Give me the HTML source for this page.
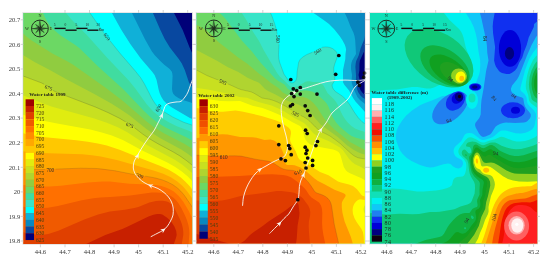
<!DOCTYPE html><html><head><meta charset="utf-8"><style>html,body{margin:0;padding:0;background:#fff;width:550px;height:267px;overflow:hidden}svg{display:block;filter:blur(0.45px)}</style></head><body><svg width="550" height="267" viewBox="0 0 550 267"><clipPath id="c1"><rect x="23.3" y="13.0" width="168.8" height="231.1"/></clipPath><g clip-path="url(#c1)"><rect x="22.3" y="12.0" width="171.0" height="233.5" fill="#000078"/>
<path fill="#0848a0" d="M22.3 12l151.2 0l9.3 18.3l6.8 17.2l3.7 8.1l0 189.9l-171 0l0-233.5Z"/>
<path fill="#0888c0" d="M22.3 12l130.2 0l7.9 18l4.3 9l5.2 8.5l8.9 11.5l3 4.5l3 6.5l4.2 12.5l1.8 3.1l2.5 2.5l0 157.4l-171 0l0-233.5Z"/>
<path fill="#10b0d8" d="M22.3 12l109.2 0l13.6 27.5l6.8 12l2.9 3.7l5.5 5.8l4 3.8l5.4 4.2l2 2.5l.6 2l.3 2.5l-.6 13l.5 3l.9 2l1.9 2l3.5 2.2l4 1.7l8 2.5l2.5 1.6l0 141.5l-171 0l0-233.5Z"/>
<path fill="#00ffff" d="M22.3 12l89.1 0l9.7 17.5l9.2 14.5l10.5 14.4l11.2 13.1l2.6 3.5l2 5l2 9.5l1.2 4l1.6 3.5l2.2 3.5l3.2 3.3l4.3 3.2l18.8 11l3.4 1.4l0 126.1l-171 0l0-233.5Z"/>
<path fill="#38e4c8" d="M22.3 12l67 0l14.4 20.5l6.1 8l10.4 13l14.7 17l5.6 7l4 6.5l7.7 15l2.5 4l2.8 3.5l2.7 2.5l3.3 2.5l9.2 5.5l11.1 5.3l9.5 3.2l0 120l-171 0l0-233.5Z"/>
<path fill="#40dca0" d="M22.3 12l43 0l5.7 7l16.3 16.4l20.1 22.6l21.4 22.6l6.5 7.9l11.6 16l6.4 7.1l6.7 5.4l8.8 5.3l8 3.9l12 4.6l4.5 2.1l0 112.6l-171 0l0-233.5Z"/>
<path fill="#6cd864" d="M22.3 12l20.3 0l2.4 5.5l2.4 4.5l2.8 4l3.2 3.5l7.3 6l14.6 9.5l4 3.1l18.3 17.9l26.2 23.8l19.7 20.7l6.8 6.5l7 5.4l7.5 4.6l7.5 3.8l14 6.4l7 3.9l0 104.4l-171 0l0-233.5Z"/>
<path fill="#90cc40" d="M22.3 32l0-.4l1 1.9l2.4 2.5l6 4.5l20.7 13l13.9 7.2l6.5 3.8l33.5 23.7l17 13l22.7 19.8l8.3 6.4l10 6.1l20 10.2l9 5.8l0 96l-171 0l0-213.5Z"/>
<path fill="#b0d430" d="M22.3 55l0-.4l12.2 7.4l15.3 8l17 9.5l27.5 14.4l17 9.7l9.5 5.9l8.5 5.8l16.5 13.2l7 5l8 4.9l20.5 11.1l6 3.9l6 4.5l0 87.6l-171 0l0-190.5Z"/>
<path fill="#c8e020" d="M22.3 76l0-.3l18.5 6.9l3.7 1.9l4.8 4l5.7 3l40.3 15.5l12.5 5.5l11.5 5.7l11 6.3l12.5 9.6l7.9 5.4l7.1 4.2l15.5 8.3l7 4.2l6.5 4.6l6.5 5.3l0 79.4l-171 0l0-169.5Z"/>
<path fill="#e0ec10" d="M22.3 95.5l0-.5l21.5 8.8l7.5 2.8l43 12l12.5 4.2l11 4.4l9.5 5l13.3 8.8l7.4 4.5l26.8 14.3l7.5 5l7.5 6.1l3.5 3.2l0 71.4l-171 0l0-150Z"/>
<path fill="#ffff00" d="M22.3 114.5l13 3.9l9.5 2.5l11 2.3l34.5 6.4l11.5 2.8l10 3.1l11 4.6l21 11.2l23.5 11.1l7.5 4.3l7 4.8l6 5.1l5.5 5.6l0 63.3l-171 0l0-131Z"/>
<path fill="#ffc800" d="M22.3 133l10.5 2.3l10 1.6l33.5 3.4l11.5 1.4l10 1.8l9 2.1l13.5 4.3l20.9 8.6l18.6 7.2l8.5 3.9l7.5 4.3l5 3.7l4.4 3.9l4.1 4.3l4 5l0 54.7l-171 0l0-112.5Z"/>
<path fill="#ffa800" d="M22.3 151.5l0-.3l8.5 1.3l9.5 .6l42 1.2l9.5 .9l9 1.2l17 3.8l36.5 10.5l9 3.1l7.5 3.5l6.5 4.2l5.5 4.7l4.5 5.2l6 8.4l0 45.7l-171 0l0-94Z"/>
<path fill="#ff8c00" d="M71.8 168.5l12.5-.3l10.5 .2l8.5 .7l12 1.7l20.5 4.1l14 2l7 1.4l9 2.9l7.5 3.9l5 3.7l4.5 4.6l4 5.3l6.5 9.9l0 36.9l-171 0l0-76.6l7.5 .5l12 .1l30-1Z"/>
<path fill="#ff7000" d="M102.7 181.5l7.1-.1l19.5 2.4l20 .7l7 .6l5 1l4.5 1.4l4 1.7l4 2.4l5 4.4l4.5 5.7l5.5 9.3l3.9 8.5l.6 1.8l0 24.2l-171 0l0-60.6l15 1.5l12.5 .1l11-.8l27-3.1l14.9-1.1Z"/>
<path fill="#f05a00" d="M151.7 192.5l4.6-.1l4 .3l4 .8l3.5 1.1l3 1.5l3 2l2.5 2.4l2.3 3l3 5l3.2 6.4l2.1 5.1l1.5 5l.7 4l.3 4.5l-.9 12l-166.2 0l0-38.9l14 1.5l6 0l5.5-.4l10-1.6l24-5.8l11.5-2.1l7-.8l10-.4l20-1.6l21.4-2.9Z"/>
<path fill="#e04000" d="M155.9 201l3.4-.3l3.5 .1l3 .5l2.5 .8l3.1 1.9l3.2 4.5l5.7 11.5l1.7 4.5l.9 4l.4 3.5l0 3l-1.8 10.5l-159.2 0l0-13.3l8 1.6l7 .9l6 0l5-.7l10-3.2l26-11.3l13.8-5l11.7-3l15-1.8l9.5-1.7l4-1.1l11-4.3l6.6-1.6Z"/>
<path fill="#c82000" d="M157.2 214l2.6 0l2.5 .6l4.5 2.8l4 3.7l3.6 5.4l1.8 4.5l.5 4l-.9 3.5l-2.5 7l-90.3 0l22.3-10.6l17-6l5.5-2.3l20.7-10.1l4.8-1.7l3.9-.8Z"/></g>
<clipPath id="c2"><rect x="196.5" y="13.0" width="168.3" height="230.6"/></clipPath><g clip-path="url(#c2)"><rect x="195.5" y="12.0" width="170.5" height="233.0" fill="#000078"/>
<path fill="#0848a0" d="M195.5 12l170.5 0l0 36.4l-2.4 4.1l-3.7 8l-.4 3l-.1 7l-.8 4.5l.9 4.5l-.1 7.5l.3 1.5l1 2l1.8 2.3l1.8 1.7l1.7 1.1l0 149.4l-170.5 0l0-233Z"/>
<path fill="#0888c0" d="M195.5 12l170.5 0l0 20.3l-1.8 7.2l-3.5 8.5l-2 7.5l-2.5 5.5l-.5 2.5l-.3 3.5l.6 8l-.1 6.5l1.2 8l1.4 3.2l1.9 2.8l2.1 1.9l3.5 2.2l0 145.4l-170.5 0l0-233Z"/>
<path fill="#10b0d8" d="M195.5 12l148.8 0l3.1 6.5l3.1 8l2.9 6l1.1 3.5l.7 4l.8 14l-3.8 6.5l-.8 2.5l-.4 2.5l0 3.5l1 6l-.4 5.5l.3 3l2.2 6.5l3.3 7l2.6 3l6 4.9l0 140.1l-170.5 0l0-233Z"/>
<path fill="#00ffff" d="M195.5 12l116.6 0l12.9 8.9l4 3.2l5 5l5.6 6.9l2.7 4l2.4 4.5l.9 2.5l.5 2.5l-.6 4.5l-.2 5l-2.3 11l.1 12.5l1.4 2.5l4.6 5.5l4.3 8l2.1 3.1l10.5 11.5l0 131.9l-170.5 0l0-233Z"/>
<path fill="#38e4c8" d="M195.5 12l74.6 0l2 4.5l2.5 7l1.8 6.5l1.4 7l1.2 7.5l-.5 10l.3 4l.7 3.5l4.7 12.5l3.1 4l2.2 3.5l1.5 .9l1.5 0l1.5-.5l1.1-.9l1-1.5l.7-2.5l.3-5.5l1.6-10l1.8-2.9l3-2.6l3.5-2l7.5-3.2l5.5-3l4-1.3l3.5 0l3.5 .8l3 1.7l2 2l1.2 2l.3 2l-.5 2.3l-2.3 6.2l-.9 3.5l-.1 4.5l1.2 7l-.5 2l-2.4 4l.5 2.5l1.1 2l1.9 2.1l6.7 4.4l3.3 3l4 5.3l5 8.2l3.6 5l3.9 4.2l4 2.8l0 120.5l-170.5 0l0-233Z"/>
<path fill="#40dca0" d="M195.5 12l45.7 0l5.4 8.5l5.9 10.6l6.5 9.9l4.9 9.5l13.2 22.5l3.1 4l5.3 4.7l3 3.3l1.5 1.2l1.5 .6l1.5 .3l2.1-.1l4-1.5l6.4-3.8l2-.5l2 .1l3.5 .7l5 .1l3 1l2.5 2.4l4 7.5l6.2 6l2.4 3l1.8 3l2.6 6.1l2.5 4.8l2.3 3.6l2.4 3l3.7 3.5l3.6 2.4l3.7 1.6l7.3 2.4l0 112.6l-170.5 0l0-233Z"/>
<path fill="#6cd864" d="M195.5 12l22 0l2.7 1.5l2.8 2.5l3 3.5l16.2 21.5l9.3 10l9 11.5l14.6 16l3.3 2.5l6.1 3.6l3.4 4.4l3.1 1.8l4 .6l8-.9l4 .1l5 1l4.1 1.9l8.4 7.5l2.2 2.5l1.7 3l2.9 7.5l1.9 4l2.9 4.5l3.5 4l8.3 7l3.6 2.4l4.5 1.8l8 2l2 .8l0 104.5l-170.5 0l0-233Z"/>
<path fill="#90cc40" d="M195.5 25l0-.3l1 .3l3.5 1.5l6.3 4l3.7 3.2l8.4 8.3l19.8 15.5l8.8 6.1l12.4 10.4l5.6 4l6 4.9l7.4 5.1l4.3 4.5l3.8 2l3.5 1.3l3.5 .6l9.5 .6l3.5 1.1l3.5 1.9l3.4 3l3.6 4.2l6.9 10.8l2.2 3l8.3 8.5l15.6 12.4l13 7.2l3 1.1l0 94.8l-170.5 0l0-220Z"/>
<path fill="#b0d430" d="M195.5 49.5l21 11l11 6.5l10.8 5l9.2 5.8l11 4.8l1.8 1.4l4.7 4.9l3.5 2.3l7 3.4l9 5l5.5 2.2l8.3 2.7l3.7 1.9l4.5 3.2l4.5 3.9l9.5 11l17.3 12.5l9.2 8.3l6.5 4.4l4 2.3l3.6 1.5l4.9 1.2l0 90.3l-170.5 0l0-195.5Z"/>
<path fill="#c8e020" d="M195.5 70l0-.5l7.5 4.1l5 2.4l22 8.8l9 4.1l3 .9l9 2l3 1.4l8 4.8l7 1.2l4 1.1l4.5 1.8l6.5 3.2l5.5 3.2l6.5 4.7l7.5 3.6l3.5 2.1l3 2.5l5.4 5.6l2.6 2.3l4 2.6l8 4.1l6.5 4.7l4 3.1l10 9.2l3.5 2.8l4 2l6.5 1.1l1.5 .5l0 85.6l-170.5 0l0-175Z"/>
<path fill="#e0ec10" d="M195.5 88l0-.3l15 2.2l16.5 3.7l12.5 3.3l7.5 .9l11.5 4.3l13 3.4l7 2.9l6 3.2l9.5 6.2l10 5.3l2.7 2.4l5.9 7l3.9 3.1l3.5 1.8l9 3.8l11 6.2l2.8 2.6l6.2 8.8l3 3.3l3 2.1l6 2.8l5 3l0 75l-170.5 0l0-157Z"/>
<path fill="#ffff00" d="M195.5 97l18 3.1l7 .8l8.5 .4l11-.3l12.5 4.7l10 2.4l7.9 2.9l10.1 4.3l12 7l7.5 3.7l1.4 1.5l1.3 2.5l1.9 7.5l.9 2.1l2 2.7l2.5 1.9l2.5 1.1l3 .9l17.6 3.3l3.4 1.2l2 1.3l1 1.3l1 2.2l3.3 11.5l2.2 3.6l1.7 1.4l2.3 1.3l11.5 4.9l4.5 2.5l0 24l-1 .6l-.9 1.2l-.7 2.5l.6 3l2 3.4l0 29.6l-170.5 0l0-148Z"/>
<path fill="#ffcc00" d="M195.5 108l3 .3l11 2.6l6 .8l7.5 0l12.5-1.2l6.5 .9l19.5 4.5l14.7 4.6l4.8 2l7.4 5l1.8 2l.7 2l.1 2l-1 5.5l.4 2.5l1.4 3l4 7l2.3 6l1.9 2.5l12.5 7.2l7.5 4.8l8.5 3.3l9.5 6.2l3 1.1l8 1.8l4 1.7l4 3.1l4.5 5.8l1 .7l2.5 .8l1 .6l0 2.1l-1 .8l-5-.7l-2 .7l-1.9 1.5l-1.6 2l-1 2l-.6 2l-.3 2.5l.4 4l1.5 4.2l2.1 3.8l4.9 7l1.4 3l.7 4l.6 9l-168.7 0l0-137Z"/>
<path fill="#ff9800" d="M217.7 134.5l4.8-.2l5 .3l12.5 2.4l12.5 .2l4 .6l8 2.1l6-.3l3.5 .8l2 1.3l2.5 2.4l1.5 1.9l1.5 2.7l2.4 5.8l.1 5l.3 2l.7 1.6l1.2 1.4l1.3 .6l4.5-.2l2.5 .3l5.5 2l5.5 3.5l9 7.9l3.5 2.5l6 2.8l10.5 5.8l8.5 3.3l1.8 1l.8 1l-.1 1.2l-3 4.7l-.7 2.1l0 4.5l.7 5.5l2.1 8.5l6.3 15.5l2.3 8l-157.7 0l0-107.1l4-.1l11.5-2.4l6.7-.9Z"/>
<path fill="#ff6c00" d="M195.5 155l14.5 .9l24.5-.1l6.5 .3l15.5 3.3l12.5 1.9l4.5 1.9l7 4.5l2.7 1.3l2.8 .7l7.3 .8l4.7 1.6l4 3.4l6 6.4l2.5 3.2l4.5 6.9l1.8 1l5.2 1.8l3 1.4l3 2.3l1.9 2.5l.9 2l.8 3l2.7 18.5l4.7 20.5l-143.5 0l0-90Z"/>
<path fill="#f05000" d="M262.6 174.5l9.4-.3l11 .7l4 .9l4 1.5l6 4.3l7 6.2l2 2.2l3.2 5l2.3 2.5l7.6 5l1.9 3l1 3.6l.3 3.9l-.2 10l.3 5.5l.9 6l2.2 10.5l-130 0l0-68.1l14 0l30-.9l23.1-1.5Z"/>
<path fill="#e03c00" d="M276.8 191l4.7-.1l10 1.4l2.5 .5l2.5 1l4.5 2.9l2 1.7l5.2 7.1l1.4 3l.7 3.5l-.2 3.5l-1.2 6l-.2 4.5l.3 6.5l1.1 12.5l-114.6 0l0-44.6l15 .7l11.5-.7l7.5-1.3l12-3.4l26-3.2l9.3-1.5Z"/>
<path fill="#c82000" d="M296.1 203l1.4 0l1 1.5l1 8.5l-.3 3.5l-1.6 9l-.8 12.5l-1 7l-100.3 0l0-11.4l26 7.8l7.5 2l7 .8l2-.2l2.5-.8l4-2.5l5.5-5.7l3.8-3l8.2-5.5l6.5-5l16.5-10.8l4.5-3.5l6.6-4.2Z"/></g>
<clipPath id="c3"><rect x="370.0" y="13.0" width="167.3" height="230.6"/></clipPath><g clip-path="url(#c3)"><rect x="369.0" y="12.0" width="169.5" height="233.0" fill="#100010"/>
<path fill="#000080" d="M369 12l169.5 0l0 233l-169.5 0l0-233Z"/>
<path fill="#0000d8" d="M369 12l169.5 0l0 233l-169.5 0l0-233Z"/>
<path fill="#1030f0" d="M369 12l169.5 0l0 233l-169.5 0l0-233ZM512 39.9l-1 .4l-.6 .7l-.6 1.5l-.1 1.5l.2 1.5l.6 1.2l.5 .5l1 .4l1-.4l1-1l.9-2.7l-.2-1.5l-.7-1.3l-1-.7l-1-.1Z"/>
<path fill="#2080f0" d="M369 12l125.8 0l-1.7 9.5l-.4 5l.4 7l2 13.5l-1 13.5l.9 3.7l1 2.6l3 4.2l1.1 1l1.9 1l4.5 1.1l3-.2l2.5-1.1l3-2.4l2-2.5l2.3-5.4l3-5l1.6-5.5l2.8-7l2-7.5l5.1-10.5l.3-3l4.4-3.7l0 224.7l-169.5 0l0-233Z"/>
<path fill="#10c8f8" d="M369 12l110.7 0l1.8 6.8l4.8 22.2l.6 4.5l.4 7.5l1.2 7.5l-2.4 10.5l-2.4 17l-2.2 12l-.4 4.5l-.4 10l-1.4 3.5l-3.9 5l-.4 2l.7 2.5l3.3 6l2 2.4l2 1l2.5-.4l4.6-2l1.4-1.5l4-6.2l2-1.6l3-1.5l2.5-.8l3-.3l9.5 .5l8.5-.6l2-.6l1.5-.8l2.5-2.8l.7-1.8l.1-2l-.8-1.6l-3.5-4.1l-1.4-2.3l-.9-2.5l-.9-5.5l-1.3-1.1l-5.5-1.6l-3.2-1.8l-1.9-2.5l-.4-1.5l0-1.5l1.1-3l4.9-6.1l2-3.4l7.8-20l4.8-11l4.4-7.9l1-1.3l1.5-1.2l0 210.4l-169.5 0l0-233Z"/>
<path fill="#00f0f0" d="M369 12l96.3 0l5.7 9.3l2.9 6.2l1.7 5.5l1.4 6.5l1.5 12l1.6 8.5l.2 4.5l-.4 6.5l-.6 3l-4.5 12l-2.8 4.9l-2 2.2l-2 1.7l-4 1.9l-4.5 .4l-11.5-1.4l-5.5 .4l-10 4.2l-8.6 3.2l-3.9 1.8l-8 5.2l-6 5.3l-4.2 5.2l-3.7 6l-1.3 3l-1 5l.1 3l.5 3l2.5 7l1.6 3l2 2.8l4 4l5 3.3l8.5 3.9l6.5 1.9l3.5 .5l3.5-.1l10-3.1l4.5-.7l2.5 .5l3 2.8l2.5 1.3l2.5 .3l2.5-.9l1-1l.9-2l.1-1.5l-.5-2l-1-1.3l-4.5-2.2l-1.8-1.5l-1.5-3l-.1-3l.7-2l1-1.5l6-5.5l3.2-6l1-1l1.5-.7l2.5-.4l2.5 .4l1.5 .8l6.5 5l2 .8l1.5 .2l2.5-.6l6.5-2.3l2.4-1.7l4.1-3.8l2.5-1.2l4.4 0l9.6 2.7l5.5 .4l3.5-.6l3-.9l3-1.6l2-1.6l1.5-2.2l.9-2.7l1.3-7.5l-.4-3l-1.7-3l-4.6-4.4l-1.5-1.9l-.9-2.2l-.5-4l-.6-1.8l-1.5-2.2l-3.5-3l-.6-1.5l0-1.5l4.7-18l4.1-11l4.3-6.9l5-6.3l0 199.2l-169.5 0l0-233Z"/>
<path fill="#10e0b8" d="M369 12l74.1 0l6.4 7.9l9.6 9.1l1.9 2.5l1.3 2.5l1.2 3.5l2.3 10l4.3 11.5l1.3 5l.3 3.5l-.2 2.5l-.7 2.5l-1.3 2.5l-2.9 3.5l-3.1 1.7l-3.5 .7l-8.5 .4l-4.5 .8l-4.5 1.5l-8.5 3.9l-3.5 1.1l-4 0l-9-1.5l-5.5-.1l-15.5 2.4l-13 .5l-14.5 2.4l0-80.3ZM538.3 54l.2-.2l0 55l-7-5l-2-2.3l-.6-1.5l-.7-5l-2.2-6l-.3-3l.3-4l1.1-6.5l2.1-7.5l3.8-8l2.5-3.2l2.8-2.8ZM538.1 135l.4-.3l0 110.3l-169.5 0l0-54.6l3.5-.2l12.5-1.5l7.5-.2l8 .6l16.5 2.3l6.5 .2l12.7-1.1l5.8-1l4.5-1.2l3.2-1.3l1.9-1.5l.5-1l1.1-4.5l1.6-2l2.2-.9l5.5-.7l1.5-1l1-1.6l.8-2.8l.5-3.5l0-3l-.4-2l-1.8-3l-4.7-4.5l-.9-2l-.2-2l.6-2l1.2-2l5.4-7.1l2.5-2.2l2-.5l2 .4l4 1.7l4.5 2.6l2 .7l2-.2l4.5-1.6l6-1.5l5-2.3l1.5-.2l2.5 .5l9 3.5l3.5 .7l3.5 .1l5-.6l5-1.4l4.5-2.1l3.6-2.5Z"/>
<path fill="#10c878" d="M538.4 60l.1 43.8l-5-2.8l-1.2-1l-.7-1l-2.3-10l-.4-4.5l.7-7.5l1.9-6.6l3-6l2-2.6l1.9-1.8ZM472.4 141.5l3.6 .5l5 2.7l2 .5l1.5-.3l5.5-2.2l2.5-.3l2.5 .2l2.5 .8l4 2.3l5 1.8l5 1.2l4.5 .5l5-.3l6-1.3l6-1.9l5.5-2.5l0 101.8l-169.5 0l0-31.8l3.5-.2l9.5 1.2l5 .4l13-.9l12.5 .6l6.5-.2l11-2.1l6 .1l4-.3l13.1-2.3l1.9-.5l5.5-2.4l6.9-2.1l2.1-1l1.3-1l.9-1.5l2.9-7.5l.4-5l-.1-4l-.8-2.5l-3.2-5.5l-1.2-3l-.6-3l-.8-7l-.8-2.9l-1-1.4l-3.6-3.2l-.9-1.5l-.3-1.5l.3-1.5l.5-.9l1-.9l1-.3l1 .7l3 3.2l1 .2l1-.5l.6-1l.2-1.5l-.8-2.5l-1-.9l-3-.5l-.4-.6l0-1l.8-1.5l1.1-.9l2-.7l2.4-.4Z"/>
<path fill="#10b040" d="M538.2 65.5l.3-.3l0 34.3l-3-2.1l-1.7-2.4l-1.7-5.5l-.6-5.5l.5-5.5l1.3-5l2.1-4.5l2.8-3.5ZM474.2 145l1.3-.4l1.5 .2l4.5 2.9l2 .5l1.5-.4l4.5-2.6l2.5-.1l2.5 1.2l5 4.1l4 2.2l6 2.4l5 1l4 0l5-.8l15-4.8l0 94.6l-126.2 0l13.2-4.9l14-3.2l2.5-.9l2-2.3l3.4-6.2l2-3l3.9-4.5l3.7-3.5l2.8-2l2.7-1.1l2.5-.5l4.5 0l2.9-3.9l1.6-1l2.8-1l.5-.5l.3-1.5l-.5-3.5l.2-2l2.3-5l-.1-5l.4-6l-.4-1.5l-.6-1l-4.9-4.7l-2.3-3.8l-1.2-4.5l-1.4-10l.2-1.5l1.7-2l1.1-2l1.1-6l1-1.5ZM464.5 227.3l-.6 .7l.1 .6l1 .6l.8-.2l.3-.5l-.1-.7l-.5-.5l-1 0ZM471.5 215.5l-.6 .5l.1 1.6l1 1.3l1 0l.9-.9l-.3-1l-1.1-1.2l-1-.3ZM465.2 154.5l.3-.2l.9 .2l.4 1l-.3 .4l-1-.3l-.4-.6l.1-.5Z"/>
<path fill="#10a020" d="M538.2 70.5l.3-.3l0 25.2l-2-2.2l-1.3-2.7l-.9-3.5l-.2-3.5l.2-3.5l.8-3.5l1.4-3.4l1.7-2.6ZM475.9 147.5l1.1-.1l1 .4l4 3.4l1.5 .7l1.5-.2l4-2.2l1.5-.2l1 .2l1.5 1l3.5 3.3l5 3.1l7.5 3.8l5 1.4l5 .2l5.5-.9l5-1.4l9-3.4l0 88.4l-99.4 0l6.4-2.8l2.5-1.5l2.4-2.2l4.1-5l1.5-1.2l2-.3l2.5 1.3l2 .4l2-.4l1.5-.7l2.6-2.6l2.9-4.5l3-3.4l1.2-2.1l.5-3l-.8-4.5l.1-1.5l.6-1l2.9-1.5l1.1-2l.3-2l-.4-4.5l2.3-5l.2-5l1.4-7l-.2-1.5l-1-1.5l-5.7-3.8l-2.5-2.4l-1.7-2.8l-1.1-3.5l-.9-6l.1-3.5l3.6-8.9l.5-.9l.9-.7Z"/>
<path fill="#20a020" d="M538.3 76.5l.2-.4l0 14l-1.2-3.1l-.5-3.5l.3-3.5l1.2-3.5ZM475.8 150.5l1.2-.5l1.5 .7l4 4.8l1.5 1.1l1.5-.2l3-1.7l2 .2l6.2 4.1l9.3 5.5l4 2l4 1.3l4 .4l6.5-.5l8-1.1l6-1.4l0 79.8l-81.7 0l4.3-4l5.9-4.8l3.1-4.2l3.8-4l2.1-3.1l1.6-3.9l1.4-7.5l2.7-4l.9-2l.7-7l2-6l1.8-10l.1-2l-.5-2l-1.7-2l-7-4.1l-2.3-1.9l-2-3l-1.2-3.8l-.6-4.2l.2-3.5l1.9-4.7l1.8-2.8Z"/>
<path fill="#90d020" d="M476.8 152.5l1.2 .3l1.2 1.2l3.3 6.8l1.5 1.7l2 .4l5-.5l3 .6l3.9 2l8.6 5.5l4.5 2l3.5 .9l3.5 .3l17.5 .3l3-.2l0 71.2l-72.2 0l7.7-10l4.8-9l2.5-9l3.9-8l1-7l1.8-6l2.3-10.5l-.3-4l-1.5-3.1l-1.6-1.4l-4.4-2.2l-5.5-3.6l-1.5-1.6l-1.2-2.1l-1.2-4.5l0-4.5l1.5-4l.9-1.2l1.3-.8Z"/>
<path fill="#ffff00" d="M476.5 155l.6 0l.9 .5l1 1.6l1 2.9l1 5l.5 1.1l1 .3l4.5-.4l3 .8l2.8 1.7l10.2 7.7l5 2.8l5 1.6l6 .8l8.5 .3l11-.6l0 63.9l-64.1 0l3.7-6.5l1.9-5.5l2.7-6l2.3-7l3-6l.6-2.5l-.1-4.5l.5-2.4l2-8.6l3.3-8l.6-3.5l-.3-2.5l-.8-2.5l-.9-2l-.9-1.2l-2-1.2l-4.5-.8l-2-.8l-1.7-1.5l-1.8-2.4l-3-1.4l-1.5-1.7l-1.2-3.5l-.2-3.5l.9-3l1.5-1.5Z"/>
<path fill="#ffc000" d="M476.5 158.5l.5 0l.5 .5l.5 2l-.1 2l-.4 .6l-.5 .2l-1-1.2l-.3-1.6l.1-1.5l.7-1ZM484.6 168l1.9-.3l2 .9l.6 .9l.2 1l-.8 1.5l-2 .7l-1.5-.2l-1-.5l-.7-1l-.2-1l.3-1l1.2-1ZM494.1 230.5l1.9-.4l2 .2l2 .9l1.5 1.4l1.8 3.4l1.3 7l.4 1l1.1 1l-19.3 0l1.8-6.5l1.4-3.6l2-2.9l2.1-1.5ZM538.2 243l.3-.3l0 2.3l-3.2 0l2.9-2Z"/>
<path fill="#ff9000" d="M485.8 170l.5 0l-.3 .5l-.2-.5Z"/><path fill="#ffc000" d="M478.0 250.0C467.3 249.0 479.9 246.5 481.0 244.0C482.1 241.5 483.1 239.0 484.4 235.0C485.7 231.0 487.4 225.0 489.0 220.0C490.6 215.0 492.0 209.3 494.0 205.0C496.0 200.7 498.3 196.8 501.0 194.0C503.7 191.2 506.8 189.7 510.0 188.5C513.2 187.3 516.7 187.2 520.0 186.8C523.3 186.4 525.8 186.4 530.0 186.3C534.2 186.2 542.5 175.4 545.0 186.0C547.5 196.6 556.2 239.3 545.0 250.0C533.8 260.7 488.7 251.0 478.0 250.0Z"/><path fill="#ff9000" d="M483.0 250.0C473.1 249.0 484.6 246.5 485.5 244.0C486.4 241.5 487.1 239.0 488.3 235.0C489.6 231.0 491.4 225.0 493.0 220.0C494.6 215.0 496.2 208.8 498.2 205.0C500.2 201.2 502.5 199.2 505.0 197.5C507.5 195.8 510.2 195.2 513.0 194.5C515.8 193.8 516.7 193.2 522.0 193.0C527.3 192.8 541.2 183.5 545.0 193.0C548.8 202.5 555.3 240.5 545.0 250.0C534.7 259.5 492.9 251.0 483.0 250.0Z"/><path fill="#f85000" d="M490.0 250.0C481.2 249.0 491.4 246.5 492.0 244.0C492.6 241.5 492.7 239.0 493.6 235.0C494.5 231.0 496.1 224.7 497.5 220.0C498.9 215.3 500.2 210.2 502.0 207.0C503.8 203.8 505.8 202.2 508.0 201.0C510.2 199.8 512.2 199.9 515.0 199.5C517.8 199.1 520.0 198.8 525.0 198.5C530.0 198.2 541.7 189.4 545.0 198.0C548.3 206.6 554.2 241.3 545.0 250.0C535.8 258.7 498.8 251.0 490.0 250.0Z"/><path fill="#f01000" d="M496.0 250.0C488.2 249.0 497.4 246.5 498.0 244.0C498.6 241.5 498.8 239.0 499.5 235.0C500.2 231.0 500.9 224.3 502.0 220.0C503.1 215.7 504.3 211.7 506.0 209.0C507.7 206.3 509.7 205.1 512.0 204.0C514.3 202.9 517.0 202.8 520.0 202.5C523.0 202.2 525.8 202.4 530.0 202.5C534.2 202.6 542.5 195.1 545.0 203.0C547.5 210.9 553.2 242.2 545.0 250.0C536.8 257.8 503.8 251.0 496.0 250.0Z"/><path fill="#ff2020" d="M500.0 250.0C492.8 249.0 501.3 246.5 502.0 244.0C502.7 241.5 503.4 238.7 504.0 235.0C504.6 231.3 504.7 225.8 505.5 222.0C506.3 218.2 507.4 214.7 509.0 212.0C510.6 209.3 512.8 207.2 515.0 206.0C517.2 204.8 519.5 204.8 522.0 205.0C524.5 205.2 527.7 205.8 530.0 207.0C532.3 208.2 533.5 210.7 536.0 212.0C538.5 213.3 543.5 208.7 545.0 215.0C546.5 221.3 552.5 244.2 545.0 250.0C537.5 255.8 507.2 251.0 500.0 250.0Z"/><ellipse cx="439.0" cy="58.0" rx="38.5" ry="24.0" transform="rotate(35 439.0 58.0)" fill="#10c878"/><ellipse cx="445.0" cy="66.0" rx="28.0" ry="16.0" transform="rotate(35 445.0 66.0)" fill="#10b040"/><ellipse cx="448.7" cy="70.2" rx="22.0" ry="11.5" transform="rotate(35 448.7 70.2)" fill="#10a020"/><ellipse cx="454.0" cy="73.5" rx="16.0" ry="8.5" transform="rotate(35 454.0 73.5)" fill="#20a020"/><ellipse cx="459.0" cy="76.0" rx="8.0" ry="7.5" transform="rotate(20 459.0 76.0)" fill="#90d020"/><ellipse cx="460.5" cy="77.0" rx="5.0" ry="5.6" transform="rotate(15 460.5 77.0)" fill="#ffff00"/><ellipse cx="461.7" cy="78.5" rx="2.4" ry="2.7" transform="rotate(0 461.7 78.5)" fill="#ffc000"/><ellipse cx="510.0" cy="48.4" rx="11.1" ry="18.4" transform="rotate(0 510.0 48.4)" fill="#0000d8"/><ellipse cx="509.5" cy="53.4" rx="4.6" ry="6.3" transform="rotate(0 509.5 53.4)" fill="#000080"/><ellipse cx="450.0" cy="108.0" rx="21.0" ry="12.0" transform="rotate(-40 450.0 108.0)" fill="#2080f0"/><ellipse cx="455.5" cy="101.0" rx="11.0" ry="8.0" transform="rotate(-45 455.5 101.0)" fill="#1030f0"/><ellipse cx="457.5" cy="98.0" rx="6.5" ry="5.0" transform="rotate(-45 457.5 98.0)" fill="#0000d8"/><ellipse cx="459.0" cy="97.0" rx="4.0" ry="4.5" transform="rotate(-30 459.0 97.0)" fill="#000080"/><ellipse cx="459.5" cy="96.5" rx="1.6" ry="1.8" transform="rotate(0 459.5 96.5)" fill="#100010"/><ellipse cx="475.2" cy="87.0" rx="6.2" ry="3.8" transform="rotate(0 475.2 87.0)" fill="#1030f0"/><ellipse cx="475.2" cy="87.0" rx="5.0" ry="3.1" transform="rotate(0 475.2 87.0)" fill="#0000d8"/><ellipse cx="474.8" cy="87.0" rx="2.8" ry="1.8" transform="rotate(0 474.8 87.0)" fill="#000080"/><ellipse cx="513.0" cy="110.3" rx="12.0" ry="8.0" transform="rotate(0 513.0 110.3)" fill="#1030f0"/><ellipse cx="515.5" cy="110.3" rx="4.5" ry="3.5" transform="rotate(0 515.5 110.3)" fill="#0000d8"/><ellipse cx="472.0" cy="100.0" rx="6.0" ry="9.0" transform="rotate(0 472.0 100.0)" fill="#00f0f0"/><ellipse cx="472.0" cy="98.0" rx="3.5" ry="4.5" transform="rotate(0 472.0 98.0)" fill="#10e0b8"/><ellipse cx="516.6" cy="226.0" rx="12.5" ry="14.5" transform="rotate(0 516.6 226.0)" fill="#ff6060"/><ellipse cx="516.6" cy="225.3" rx="8.1" ry="9.3" transform="rotate(0 516.6 225.3)" fill="#ffb0b0"/><ellipse cx="517.3" cy="225.5" rx="6.0" ry="7.3" transform="rotate(0 517.3 225.5)" fill="#fff0f0"/><ellipse cx="516.8" cy="224.3" rx="1.6" ry="1.6" transform="rotate(0 516.8 224.3)" fill="#ffffff"/></g>
<mask id="lblmask" maskUnits="userSpaceOnUse" x="0" y="0" width="550" height="267"><rect x="0" y="0" width="550" height="267" fill="#fff"/><rect x="-5.2" y="-2.4" width="10.5" height="4.8" fill="#000" transform="translate(106.8 36.6) rotate(55)"/><rect x="-5.2" y="-2.4" width="10.5" height="4.8" fill="#000" transform="translate(158.5 108.0) rotate(-62)"/><rect x="-5.2" y="-2.4" width="10.5" height="4.8" fill="#000" transform="translate(48.4 87.9) rotate(22)"/><rect x="-5.2" y="-2.4" width="10.5" height="4.8" fill="#000" transform="translate(129.7 125.4) rotate(22)"/><rect x="-5.2" y="-2.4" width="10.5" height="4.8" fill="#000" transform="translate(50.3 170.6) rotate(0)"/><rect x="-5.2" y="-2.4" width="10.5" height="4.8" fill="#000" transform="translate(139.6 175.7) rotate(20)"/><rect x="-5.2" y="-2.4" width="10.5" height="4.8" fill="#000" transform="translate(278.2 39.0) rotate(90)"/><rect x="-5.2" y="-2.4" width="10.5" height="4.8" fill="#000" transform="translate(317.7 51.4) rotate(-32)"/><rect x="-5.2" y="-2.4" width="10.5" height="4.8" fill="#000" transform="translate(222.8 82.1) rotate(25)"/><rect x="-5.2" y="-2.4" width="10.5" height="4.8" fill="#000" transform="translate(295.5 114.0) rotate(28)"/><rect x="-5.2" y="-2.4" width="10.5" height="4.8" fill="#000" transform="translate(223.7 157.6) rotate(0)"/><rect x="-5.2" y="-2.4" width="10.5" height="4.8" fill="#000" transform="translate(298.0 172.5) rotate(-22)"/><rect x="-3.8" y="-2.4" width="7.5" height="4.8" fill="#000" transform="translate(485.0 38.5) rotate(90)"/><rect x="-3.8" y="-2.4" width="7.5" height="4.8" fill="#000" transform="translate(448.8 120.8) rotate(-20)"/><rect x="-3.8" y="-2.4" width="7.5" height="4.8" fill="#000" transform="translate(494.0 98.5) rotate(50)"/><rect x="-3.8" y="-2.4" width="7.5" height="4.8" fill="#000" transform="translate(513.8 96.0) rotate(40)"/><rect x="-3.8" y="-2.4" width="7.5" height="4.8" fill="#000" transform="translate(450.3 79.2) rotate(40)"/><rect x="-3.8" y="-2.4" width="7.5" height="4.8" fill="#000" transform="translate(495.7 153.2) rotate(10)"/><rect x="-3.8" y="-2.4" width="7.5" height="4.8" fill="#000" transform="translate(466.8 220.6) rotate(-60)"/><rect x="-5.2" y="-2.4" width="10.5" height="4.8" fill="#000" transform="translate(494.2 217.5) rotate(-75)"/></mask>
<g clip-path="url(#c1)"><path fill="none" stroke="#303030" stroke-width="0.4" stroke-opacity="0.5" mask="url(#lblmask)" d="M22.3 75.7l19.5 7.3l2.7 1.5l4.8 4l6.8 3.5l39.7 15.2l12.5 5.5l11.5 5.7l11 6.5l11.8 9.1l8.1 5.5l7.1 4.2l15.5 8.3l7 4.2l6.5 4.6l6.5 5.3"/></g>
<g clip-path="url(#c1)"><path fill="none" stroke="#303030" stroke-width="0.4" stroke-opacity="0.4" mask="url(#lblmask)" d="M89.3 12l14.4 20.5l6.1 8l10.4 13l14.7 17l5.6 7l4 6.5l7.7 15l2.5 4l2.8 3.5l2.7 2.5l3.3 2.5l9.2 5.5l11.1 5.3l9.5 3.2M22.3 168.9l7.5 .5l11 .2l40-1.4l16.5 .3l18 2.3l20.5 4.1l13.5 1.9l6.5 1.3l6.5 1.8l5.5 2.2l5 2.6l4.5 3.2l3.5 3.3l3.3 3.8l9.2 13.6"/></g>
<g clip-path="url(#c2)"><path fill="none" stroke="#303030" stroke-width="0.4" stroke-opacity="0.4" mask="url(#lblmask)" d="M270.1 12l2 4.5l2.5 7l1.8 6.5l1.4 7l1.2 7.5l-.5 10l.3 4l.7 3.5l4.4 12l5.6 8l1.5 .9l2-.1l1.5-.8l1.5-1.8l.8-2.7l.3-5.5l1.5-9.5l1.4-2.8l2.5-2.5l4-2.5l7.5-3.1l5.5-3.1l3-1.2l2.5-.4l2.5 .1l2.5 .5l2.5 1l2 1.4l1.5 1.6l1 1.6l.5 1.9l-.5 2.8l-2.3 6.2l-.9 3.5l-.1 4.5l1.2 7l-.5 2l-2.4 4l.5 2.5l1.1 2l1.9 2.1l6.7 4.4l3.3 3l4 5.3l5 8.2l3.6 5l3.9 4.2l4 2.8M195.5 69.5l11.4 6l23.1 9.3l8.5 3.9l3 1l9.5 2.1l3 1.4l8 4.8l7.5 1.3l4 1.2l4 1.6l6.8 3.4l5.2 3l6.2 4.5l7.8 3.8l3.6 2.2l2.9 2.4l5.4 5.6l2.6 2.3l4 2.6l8 4.1l6.5 4.7l4 3.1l10 9.2l3.5 2.8l4 2l6.5 1.1l1.5 .5M195.5 155l14.5 .9l24.5-.1l6.5 .3l15.5 3.3l12.5 1.9l4.5 1.9l7 4.5l2.7 1.3l2.8 .7l7.3 .8l4.7 1.6l4 3.4l6 6.4l2.5 3.2l4.5 6.9l1.8 1l5.2 1.8l3 1.4l3 2.3l1.9 2.5l.9 2l.8 3l2.7 18.5l4.7 20.5"/></g>
<path d="M151.1 236.6C152.1 236.1 154.9 234.6 157.0 233.5C159.1 232.4 161.8 231.2 163.5 230.0C165.2 228.8 166.3 227.5 167.5 226.0C168.7 224.5 169.6 222.8 170.5 221.0C171.4 219.2 172.6 217.2 173.0 215.0C173.4 212.8 173.4 210.2 173.2 208.0C172.9 205.8 172.3 203.8 171.5 202.0C170.7 200.2 169.8 198.6 168.5 197.0C167.2 195.4 165.8 193.9 164.0 192.5C162.2 191.1 160.3 189.7 158.0 188.5C155.7 187.3 152.6 186.6 150.3 185.6C148.0 184.6 145.9 183.7 144.0 182.5C142.1 181.3 140.5 180.0 139.0 178.5C137.5 177.0 135.9 175.2 135.0 173.5C134.1 171.8 133.5 169.9 133.3 168.0C133.1 166.1 133.6 163.7 134.0 162.0C134.4 160.3 135.0 159.8 136.0 158.0C137.0 156.2 138.5 153.5 140.0 151.0C141.5 148.5 143.3 145.5 145.0 143.0C146.7 140.5 148.4 138.2 150.0 136.0C151.6 133.8 153.1 132.2 154.4 130.0C155.7 127.8 156.8 125.4 158.0 123.0C159.2 120.6 160.8 117.8 161.8 115.5C162.8 113.2 163.3 110.8 164.0 109.0C164.7 107.2 165.0 106.0 166.0 105.0C167.0 104.0 168.3 103.5 170.0 103.0C171.7 102.5 174.2 102.3 176.0 102.0C177.8 101.7 179.5 102.1 181.0 101.3C182.5 100.5 183.8 98.5 185.0 97.0C186.2 95.5 187.1 94.0 188.0 92.0C188.9 90.0 189.7 87.2 190.5 85.0C191.3 82.8 192.4 80.0 192.8 79.0" fill="none" stroke="#fbf6f0" stroke-width="0.9" stroke-linecap="round"/>
<path d="M2.50 0L-2.50 -2.25L-1.00 0L-2.50 2.25Z" fill="#fbf6f0" transform="translate(163.5 230.0) rotate(-35.5)"/>
<path d="M2.50 0L-2.50 -2.25L-1.00 0L-2.50 2.25Z" fill="#fbf6f0" transform="translate(150.3 185.6) rotate(-156.8)"/>
<path d="M2.50 0L-2.50 -2.25L-1.00 0L-2.50 2.25Z" fill="#fbf6f0" transform="translate(137.6 156.0) rotate(-61.4)"/>
<path d="M2.50 0L-2.50 -2.25L-1.00 0L-2.50 2.25Z" fill="#fbf6f0" transform="translate(161.8 115.5) rotate(-66.8)"/>
<path d="M242.6 205.4C242.8 204.0 242.9 199.7 243.5 197.0C244.1 194.3 244.9 191.7 246.0 189.0C247.1 186.3 248.5 183.5 250.0 181.0C251.5 178.5 253.3 175.9 255.0 174.0C256.7 172.1 258.2 170.8 260.0 169.5C261.8 168.2 263.8 167.2 266.0 166.0C268.2 164.8 270.4 163.3 273.0 162.0C275.6 160.7 279.2 159.1 281.3 158.0C283.4 156.9 284.4 156.9 285.4 155.2C286.4 153.5 287.2 150.5 287.5 148.0C287.8 145.5 287.4 142.7 287.0 140.0C286.6 137.3 285.7 134.7 285.0 132.0C284.3 129.3 283.6 126.8 283.0 124.0C282.4 121.2 281.8 118.0 281.5 115.0C281.2 112.0 281.0 108.5 281.4 106.0C281.8 103.5 282.7 101.8 284.0 100.0C285.3 98.2 287.2 96.8 289.0 95.5C290.8 94.2 292.8 93.4 294.5 92.5C296.2 91.6 297.4 90.7 299.0 90.0C300.6 89.3 301.7 89.2 304.4 88.4C307.1 87.6 311.4 86.1 315.0 85.0C318.6 83.9 322.5 82.5 325.8 81.8C329.1 81.0 331.8 80.8 335.0 80.5C338.2 80.2 341.3 80.1 345.0 80.1C348.7 80.1 353.6 80.6 357.0 80.5C360.4 80.4 364.1 79.8 365.5 79.7" fill="none" stroke="#fbf6f0" stroke-width="0.9" stroke-linecap="round"/>
<path d="M2.50 0L-2.50 -2.25L-1.00 0L-2.50 2.25Z" fill="#fbf6f0" transform="translate(260.0 169.5) rotate(-36.0)"/>
<path d="M2.50 0L-2.50 -2.25L-1.00 0L-2.50 2.25Z" fill="#fbf6f0" transform="translate(294.5 92.5) rotate(-28.8)"/>
<path d="M269.8 233.3C270.6 232.5 272.9 230.2 274.5 228.5C276.1 226.8 278.1 225.1 279.7 223.4C281.3 221.7 282.5 220.1 284.0 218.5C285.5 216.9 287.2 215.9 288.7 214.0C290.2 212.1 291.5 209.4 293.0 207.0C294.5 204.6 296.8 202.0 297.8 199.7C298.8 197.4 298.7 195.2 299.0 193.0C299.3 190.8 299.1 188.7 299.4 186.5C299.7 184.3 300.3 181.9 301.0 180.0C301.7 178.1 302.7 177.0 303.5 175.0C304.3 173.0 305.1 170.5 306.0 168.0C306.9 165.5 307.9 163.0 309.0 160.0C310.1 157.0 311.4 153.3 312.6 150.0C313.8 146.7 314.6 143.3 316.0 140.0C317.4 136.7 319.1 132.8 320.8 130.0C322.5 127.2 324.1 125.8 326.0 123.0C327.9 120.2 329.7 115.8 332.0 113.0C334.3 110.2 337.5 108.2 340.0 106.0C342.5 103.8 345.3 101.7 347.0 100.0C348.7 98.3 349.2 97.3 350.0 96.0C350.8 94.7 351.2 93.5 352.0 92.0C352.8 90.5 353.8 88.3 355.0 87.0C356.2 85.7 357.2 85.2 359.0 84.0C360.8 82.8 364.4 80.7 365.5 80.0" fill="none" stroke="#fbf6f0" stroke-width="0.9" stroke-linecap="round"/>
<path d="M2.50 0L-2.50 -2.25L-1.00 0L-2.50 2.25Z" fill="#fbf6f0" transform="translate(279.7 223.4) rotate(-46.5)"/>
<path d="M2.50 0L-2.50 -2.25L-1.00 0L-2.50 2.25Z" fill="#fbf6f0" transform="translate(303.5 175.0) rotate(-67.4)"/>
<path d="M2.50 0L-2.50 -2.25L-1.00 0L-2.50 2.25Z" fill="#fbf6f0" transform="translate(320.8 130.0) rotate(-59.5)"/>
<circle cx="338.8" cy="55.5" r="1.85" fill="#0a0a0a"/>
<circle cx="335.7" cy="74.3" r="1.85" fill="#0a0a0a"/>
<circle cx="290.8" cy="79.5" r="1.85" fill="#0a0a0a"/>
<circle cx="363.7" cy="77.2" r="1.85" fill="#0a0a0a"/>
<circle cx="357.9" cy="82.1" r="1.85" fill="#0a0a0a"/>
<circle cx="359.5" cy="85.4" r="1.85" fill="#0a0a0a"/>
<circle cx="364.5" cy="73.0" r="1.85" fill="#0a0a0a"/>
<circle cx="293.3" cy="88.8" r="1.85" fill="#0a0a0a"/>
<circle cx="296.7" cy="90.5" r="1.85" fill="#0a0a0a"/>
<circle cx="300.3" cy="87.5" r="1.85" fill="#0a0a0a"/>
<circle cx="291.6" cy="93.5" r="1.85" fill="#0a0a0a"/>
<circle cx="294.0" cy="96.6" r="1.85" fill="#0a0a0a"/>
<circle cx="300.3" cy="94.1" r="1.85" fill="#0a0a0a"/>
<circle cx="317.0" cy="94.1" r="1.85" fill="#0a0a0a"/>
<circle cx="290.4" cy="106.0" r="1.85" fill="#0a0a0a"/>
<circle cx="292.5" cy="104.5" r="1.85" fill="#0a0a0a"/>
<circle cx="305.2" cy="105.8" r="1.85" fill="#0a0a0a"/>
<circle cx="307.7" cy="110.6" r="1.85" fill="#0a0a0a"/>
<circle cx="310.1" cy="115.5" r="1.85" fill="#0a0a0a"/>
<circle cx="278.8" cy="125.8" r="1.85" fill="#0a0a0a"/>
<circle cx="305.6" cy="130.2" r="1.85" fill="#0a0a0a"/>
<circle cx="307.2" cy="133.5" r="1.85" fill="#0a0a0a"/>
<circle cx="317.5" cy="141.5" r="1.85" fill="#0a0a0a"/>
<circle cx="315.9" cy="145.6" r="1.85" fill="#0a0a0a"/>
<circle cx="278.8" cy="144.6" r="1.85" fill="#0a0a0a"/>
<circle cx="288.7" cy="145.6" r="1.85" fill="#0a0a0a"/>
<circle cx="289.8" cy="148.6" r="1.85" fill="#0a0a0a"/>
<circle cx="291.2" cy="154.7" r="1.85" fill="#0a0a0a"/>
<circle cx="281.0" cy="158.8" r="1.85" fill="#0a0a0a"/>
<circle cx="285.4" cy="160.6" r="1.85" fill="#0a0a0a"/>
<circle cx="305.2" cy="147.2" r="1.85" fill="#0a0a0a"/>
<circle cx="306.9" cy="150.2" r="1.85" fill="#0a0a0a"/>
<circle cx="306.0" cy="153.5" r="1.85" fill="#0a0a0a"/>
<circle cx="307.7" cy="158.0" r="1.85" fill="#0a0a0a"/>
<circle cx="312.6" cy="160.4" r="1.85" fill="#0a0a0a"/>
<circle cx="305.2" cy="162.5" r="1.85" fill="#0a0a0a"/>
<circle cx="312.6" cy="165.4" r="1.85" fill="#0a0a0a"/>
<circle cx="306.0" cy="168.0" r="1.85" fill="#0a0a0a"/>
<circle cx="297.8" cy="199.7" r="1.85" fill="#0a0a0a"/>
<text x="0" y="1.7" text-anchor="middle" transform="translate(106.8 36.6) rotate(55)" style="font-family:'Liberation Serif',serif;font-size:5.2px" fill="#2a2a2a">650</text>
<text x="0" y="1.7" text-anchor="middle" transform="translate(158.5 108.0) rotate(-62)" style="font-family:'Liberation Serif',serif;font-size:5.2px" fill="#2a2a2a">650</text>
<text x="0" y="1.7" text-anchor="middle" transform="translate(48.4 87.9) rotate(22)" style="font-family:'Liberation Serif',serif;font-size:5.2px" fill="#2a2a2a">675</text>
<text x="0" y="1.7" text-anchor="middle" transform="translate(129.7 125.4) rotate(22)" style="font-family:'Liberation Serif',serif;font-size:5.2px" fill="#2a2a2a">675</text>
<text x="0" y="1.7" text-anchor="middle" transform="translate(50.3 170.6) rotate(0)" style="font-family:'Liberation Serif',serif;font-size:5.2px" fill="#2a2a2a">700</text>
<text x="0" y="1.7" text-anchor="middle" transform="translate(139.6 175.7) rotate(20)" style="font-family:'Liberation Serif',serif;font-size:5.2px" fill="#2a2a2a">700</text>
<text x="0" y="1.7" text-anchor="middle" transform="translate(278.2 39.0) rotate(90)" style="font-family:'Liberation Serif',serif;font-size:5.2px" fill="#2a2a2a">560</text>
<text x="0" y="1.7" text-anchor="middle" transform="translate(317.7 51.4) rotate(-32)" style="font-family:'Liberation Serif',serif;font-size:5.2px" fill="#2a2a2a">560</text>
<text x="0" y="1.7" text-anchor="middle" transform="translate(222.8 82.1) rotate(25)" style="font-family:'Liberation Serif',serif;font-size:5.2px" fill="#2a2a2a">585</text>
<text x="0" y="1.7" text-anchor="middle" transform="translate(295.5 114.0) rotate(28)" style="font-family:'Liberation Serif',serif;font-size:5.2px" fill="#2a2a2a">585</text>
<text x="0" y="1.7" text-anchor="middle" transform="translate(223.7 157.6) rotate(0)" style="font-family:'Liberation Serif',serif;font-size:5.2px" fill="#2a2a2a">610</text>
<text x="0" y="1.7" text-anchor="middle" transform="translate(298.0 172.5) rotate(-22)" style="font-family:'Liberation Serif',serif;font-size:5.2px" fill="#2a2a2a">610</text>
<text x="0" y="1.7" text-anchor="middle" transform="translate(485.0 38.5) rotate(90)" style="font-family:'Liberation Serif',serif;font-size:5.2px" fill="#2a2a2a">84</text>
<text x="0" y="1.7" text-anchor="middle" transform="translate(448.8 120.8) rotate(-20)" style="font-family:'Liberation Serif',serif;font-size:5.2px" fill="#2a2a2a">84</text>
<text x="0" y="1.7" text-anchor="middle" transform="translate(494.0 98.5) rotate(50)" style="font-family:'Liberation Serif',serif;font-size:5.2px" fill="#2a2a2a">84</text>
<text x="0" y="1.7" text-anchor="middle" transform="translate(513.8 96.0) rotate(40)" style="font-family:'Liberation Serif',serif;font-size:5.2px" fill="#2a2a2a">84</text>
<text x="0" y="1.7" text-anchor="middle" transform="translate(450.3 79.2) rotate(40)" style="font-family:'Liberation Serif',serif;font-size:5.2px" fill="#2a2a2a">94</text>
<text x="0" y="1.7" text-anchor="middle" transform="translate(495.7 153.2) rotate(10)" style="font-family:'Liberation Serif',serif;font-size:5.2px" fill="#2a2a2a">94</text>
<text x="0" y="1.7" text-anchor="middle" transform="translate(466.8 220.6) rotate(-60)" style="font-family:'Liberation Serif',serif;font-size:5.2px" fill="#2a2a2a">94</text>
<text x="0" y="1.7" text-anchor="middle" transform="translate(494.2 217.5) rotate(-75)" style="font-family:'Liberation Serif',serif;font-size:5.2px" fill="#2a2a2a">104</text>
<rect x="22.9" y="12.6" width="169.6" height="231.9" fill="none" stroke="#d8d8d8" stroke-width="0.6"/>
<line x1="40.4" y1="244.1" x2="40.4" y2="247.3" stroke="#c8c8c8" stroke-width="0.8"/>
<line x1="40.4" y1="10.0" x2="40.4" y2="13.0" stroke="#c8c8c8" stroke-width="0.8"/>
<text x="40.4" y="253.6" text-anchor="middle" style="font-family:'Liberation Serif',serif;font-size:6.6px" fill="#3c3c3c">44.6</text>
<line x1="65.0" y1="244.1" x2="65.0" y2="247.3" stroke="#c8c8c8" stroke-width="0.8"/>
<line x1="65.0" y1="10.0" x2="65.0" y2="13.0" stroke="#c8c8c8" stroke-width="0.8"/>
<text x="65.0" y="253.6" text-anchor="middle" style="font-family:'Liberation Serif',serif;font-size:6.6px" fill="#3c3c3c">44.7</text>
<line x1="89.5" y1="244.1" x2="89.5" y2="247.3" stroke="#c8c8c8" stroke-width="0.8"/>
<line x1="89.5" y1="10.0" x2="89.5" y2="13.0" stroke="#c8c8c8" stroke-width="0.8"/>
<text x="89.5" y="253.6" text-anchor="middle" style="font-family:'Liberation Serif',serif;font-size:6.6px" fill="#3c3c3c">44.8</text>
<line x1="114.1" y1="244.1" x2="114.1" y2="247.3" stroke="#c8c8c8" stroke-width="0.8"/>
<line x1="114.1" y1="10.0" x2="114.1" y2="13.0" stroke="#c8c8c8" stroke-width="0.8"/>
<text x="114.1" y="253.6" text-anchor="middle" style="font-family:'Liberation Serif',serif;font-size:6.6px" fill="#3c3c3c">44.9</text>
<line x1="138.6" y1="244.1" x2="138.6" y2="247.3" stroke="#c8c8c8" stroke-width="0.8"/>
<line x1="138.6" y1="10.0" x2="138.6" y2="13.0" stroke="#c8c8c8" stroke-width="0.8"/>
<text x="138.6" y="253.6" text-anchor="middle" style="font-family:'Liberation Serif',serif;font-size:6.6px" fill="#3c3c3c">45</text>
<line x1="163.2" y1="244.1" x2="163.2" y2="247.3" stroke="#c8c8c8" stroke-width="0.8"/>
<line x1="163.2" y1="10.0" x2="163.2" y2="13.0" stroke="#c8c8c8" stroke-width="0.8"/>
<text x="163.2" y="253.6" text-anchor="middle" style="font-family:'Liberation Serif',serif;font-size:6.6px" fill="#3c3c3c">45.1</text>
<line x1="187.7" y1="244.1" x2="187.7" y2="247.3" stroke="#c8c8c8" stroke-width="0.8"/>
<line x1="187.7" y1="10.0" x2="187.7" y2="13.0" stroke="#c8c8c8" stroke-width="0.8"/>
<text x="187.7" y="253.6" text-anchor="middle" style="font-family:'Liberation Serif',serif;font-size:6.6px" fill="#3c3c3c">45.2</text>
<line x1="20.7" y1="19.8" x2="23.3" y2="19.8" stroke="#c8c8c8" stroke-width="0.8"/>
<line x1="192.1" y1="19.8" x2="194.7" y2="19.8" stroke="#c8c8c8" stroke-width="0.8"/>
<line x1="20.7" y1="44.4" x2="23.3" y2="44.4" stroke="#c8c8c8" stroke-width="0.8"/>
<line x1="192.1" y1="44.4" x2="194.7" y2="44.4" stroke="#c8c8c8" stroke-width="0.8"/>
<line x1="20.7" y1="69.0" x2="23.3" y2="69.0" stroke="#c8c8c8" stroke-width="0.8"/>
<line x1="192.1" y1="69.0" x2="194.7" y2="69.0" stroke="#c8c8c8" stroke-width="0.8"/>
<line x1="20.7" y1="93.5" x2="23.3" y2="93.5" stroke="#c8c8c8" stroke-width="0.8"/>
<line x1="192.1" y1="93.5" x2="194.7" y2="93.5" stroke="#c8c8c8" stroke-width="0.8"/>
<line x1="20.7" y1="118.1" x2="23.3" y2="118.1" stroke="#c8c8c8" stroke-width="0.8"/>
<line x1="192.1" y1="118.1" x2="194.7" y2="118.1" stroke="#c8c8c8" stroke-width="0.8"/>
<line x1="20.7" y1="142.7" x2="23.3" y2="142.7" stroke="#c8c8c8" stroke-width="0.8"/>
<line x1="192.1" y1="142.7" x2="194.7" y2="142.7" stroke="#c8c8c8" stroke-width="0.8"/>
<line x1="20.7" y1="167.3" x2="23.3" y2="167.3" stroke="#c8c8c8" stroke-width="0.8"/>
<line x1="192.1" y1="167.3" x2="194.7" y2="167.3" stroke="#c8c8c8" stroke-width="0.8"/>
<line x1="20.7" y1="191.9" x2="23.3" y2="191.9" stroke="#c8c8c8" stroke-width="0.8"/>
<line x1="192.1" y1="191.9" x2="194.7" y2="191.9" stroke="#c8c8c8" stroke-width="0.8"/>
<line x1="20.7" y1="216.4" x2="23.3" y2="216.4" stroke="#c8c8c8" stroke-width="0.8"/>
<line x1="192.1" y1="216.4" x2="194.7" y2="216.4" stroke="#c8c8c8" stroke-width="0.8"/>
<line x1="20.7" y1="241.0" x2="23.3" y2="241.0" stroke="#c8c8c8" stroke-width="0.8"/>
<line x1="192.1" y1="241.0" x2="194.7" y2="241.0" stroke="#c8c8c8" stroke-width="0.8"/>
<rect x="196.1" y="12.6" width="169.1" height="231.4" fill="none" stroke="#d8d8d8" stroke-width="0.6"/>
<line x1="213.8" y1="243.6" x2="213.8" y2="246.8" stroke="#c8c8c8" stroke-width="0.8"/>
<line x1="213.8" y1="10.0" x2="213.8" y2="13.0" stroke="#c8c8c8" stroke-width="0.8"/>
<text x="213.8" y="253.6" text-anchor="middle" style="font-family:'Liberation Serif',serif;font-size:6.6px" fill="#3c3c3c">44.6</text>
<line x1="238.3" y1="243.6" x2="238.3" y2="246.8" stroke="#c8c8c8" stroke-width="0.8"/>
<line x1="238.3" y1="10.0" x2="238.3" y2="13.0" stroke="#c8c8c8" stroke-width="0.8"/>
<text x="238.3" y="253.6" text-anchor="middle" style="font-family:'Liberation Serif',serif;font-size:6.6px" fill="#3c3c3c">44.7</text>
<line x1="262.8" y1="243.6" x2="262.8" y2="246.8" stroke="#c8c8c8" stroke-width="0.8"/>
<line x1="262.8" y1="10.0" x2="262.8" y2="13.0" stroke="#c8c8c8" stroke-width="0.8"/>
<text x="262.8" y="253.6" text-anchor="middle" style="font-family:'Liberation Serif',serif;font-size:6.6px" fill="#3c3c3c">44.8</text>
<line x1="287.4" y1="243.6" x2="287.4" y2="246.8" stroke="#c8c8c8" stroke-width="0.8"/>
<line x1="287.4" y1="10.0" x2="287.4" y2="13.0" stroke="#c8c8c8" stroke-width="0.8"/>
<text x="287.4" y="253.6" text-anchor="middle" style="font-family:'Liberation Serif',serif;font-size:6.6px" fill="#3c3c3c">44.9</text>
<line x1="311.9" y1="243.6" x2="311.9" y2="246.8" stroke="#c8c8c8" stroke-width="0.8"/>
<line x1="311.9" y1="10.0" x2="311.9" y2="13.0" stroke="#c8c8c8" stroke-width="0.8"/>
<text x="311.9" y="253.6" text-anchor="middle" style="font-family:'Liberation Serif',serif;font-size:6.6px" fill="#3c3c3c">45</text>
<line x1="336.4" y1="243.6" x2="336.4" y2="246.8" stroke="#c8c8c8" stroke-width="0.8"/>
<line x1="336.4" y1="10.0" x2="336.4" y2="13.0" stroke="#c8c8c8" stroke-width="0.8"/>
<text x="336.4" y="253.6" text-anchor="middle" style="font-family:'Liberation Serif',serif;font-size:6.6px" fill="#3c3c3c">45.1</text>
<line x1="360.9" y1="243.6" x2="360.9" y2="246.8" stroke="#c8c8c8" stroke-width="0.8"/>
<line x1="360.9" y1="10.0" x2="360.9" y2="13.0" stroke="#c8c8c8" stroke-width="0.8"/>
<text x="360.9" y="253.6" text-anchor="middle" style="font-family:'Liberation Serif',serif;font-size:6.6px" fill="#3c3c3c">45.2</text>
<line x1="193.9" y1="19.8" x2="196.5" y2="19.8" stroke="#c8c8c8" stroke-width="0.8"/>
<line x1="364.8" y1="19.8" x2="367.4" y2="19.8" stroke="#c8c8c8" stroke-width="0.8"/>
<line x1="193.9" y1="44.4" x2="196.5" y2="44.4" stroke="#c8c8c8" stroke-width="0.8"/>
<line x1="364.8" y1="44.4" x2="367.4" y2="44.4" stroke="#c8c8c8" stroke-width="0.8"/>
<line x1="193.9" y1="69.0" x2="196.5" y2="69.0" stroke="#c8c8c8" stroke-width="0.8"/>
<line x1="364.8" y1="69.0" x2="367.4" y2="69.0" stroke="#c8c8c8" stroke-width="0.8"/>
<line x1="193.9" y1="93.5" x2="196.5" y2="93.5" stroke="#c8c8c8" stroke-width="0.8"/>
<line x1="364.8" y1="93.5" x2="367.4" y2="93.5" stroke="#c8c8c8" stroke-width="0.8"/>
<line x1="193.9" y1="118.1" x2="196.5" y2="118.1" stroke="#c8c8c8" stroke-width="0.8"/>
<line x1="364.8" y1="118.1" x2="367.4" y2="118.1" stroke="#c8c8c8" stroke-width="0.8"/>
<line x1="193.9" y1="142.7" x2="196.5" y2="142.7" stroke="#c8c8c8" stroke-width="0.8"/>
<line x1="364.8" y1="142.7" x2="367.4" y2="142.7" stroke="#c8c8c8" stroke-width="0.8"/>
<line x1="193.9" y1="167.3" x2="196.5" y2="167.3" stroke="#c8c8c8" stroke-width="0.8"/>
<line x1="364.8" y1="167.3" x2="367.4" y2="167.3" stroke="#c8c8c8" stroke-width="0.8"/>
<line x1="193.9" y1="191.9" x2="196.5" y2="191.9" stroke="#c8c8c8" stroke-width="0.8"/>
<line x1="364.8" y1="191.9" x2="367.4" y2="191.9" stroke="#c8c8c8" stroke-width="0.8"/>
<line x1="193.9" y1="216.4" x2="196.5" y2="216.4" stroke="#c8c8c8" stroke-width="0.8"/>
<line x1="364.8" y1="216.4" x2="367.4" y2="216.4" stroke="#c8c8c8" stroke-width="0.8"/>
<line x1="193.9" y1="241.0" x2="196.5" y2="241.0" stroke="#c8c8c8" stroke-width="0.8"/>
<line x1="364.8" y1="241.0" x2="367.4" y2="241.0" stroke="#c8c8c8" stroke-width="0.8"/>
<rect x="369.6" y="12.6" width="168.1" height="231.4" fill="none" stroke="#d8d8d8" stroke-width="0.6"/>
<line x1="386.7" y1="243.6" x2="386.7" y2="246.8" stroke="#c8c8c8" stroke-width="0.8"/>
<line x1="386.7" y1="10.0" x2="386.7" y2="13.0" stroke="#c8c8c8" stroke-width="0.8"/>
<text x="386.7" y="253.6" text-anchor="middle" style="font-family:'Liberation Serif',serif;font-size:6.6px" fill="#3c3c3c">44.6</text>
<line x1="411.2" y1="243.6" x2="411.2" y2="246.8" stroke="#c8c8c8" stroke-width="0.8"/>
<line x1="411.2" y1="10.0" x2="411.2" y2="13.0" stroke="#c8c8c8" stroke-width="0.8"/>
<text x="411.2" y="253.6" text-anchor="middle" style="font-family:'Liberation Serif',serif;font-size:6.6px" fill="#3c3c3c">44.7</text>
<line x1="435.7" y1="243.6" x2="435.7" y2="246.8" stroke="#c8c8c8" stroke-width="0.8"/>
<line x1="435.7" y1="10.0" x2="435.7" y2="13.0" stroke="#c8c8c8" stroke-width="0.8"/>
<text x="435.7" y="253.6" text-anchor="middle" style="font-family:'Liberation Serif',serif;font-size:6.6px" fill="#3c3c3c">44.8</text>
<line x1="460.1" y1="243.6" x2="460.1" y2="246.8" stroke="#c8c8c8" stroke-width="0.8"/>
<line x1="460.1" y1="10.0" x2="460.1" y2="13.0" stroke="#c8c8c8" stroke-width="0.8"/>
<text x="460.1" y="253.6" text-anchor="middle" style="font-family:'Liberation Serif',serif;font-size:6.6px" fill="#3c3c3c">44.9</text>
<line x1="484.6" y1="243.6" x2="484.6" y2="246.8" stroke="#c8c8c8" stroke-width="0.8"/>
<line x1="484.6" y1="10.0" x2="484.6" y2="13.0" stroke="#c8c8c8" stroke-width="0.8"/>
<text x="484.6" y="253.6" text-anchor="middle" style="font-family:'Liberation Serif',serif;font-size:6.6px" fill="#3c3c3c">45</text>
<line x1="509.1" y1="243.6" x2="509.1" y2="246.8" stroke="#c8c8c8" stroke-width="0.8"/>
<line x1="509.1" y1="10.0" x2="509.1" y2="13.0" stroke="#c8c8c8" stroke-width="0.8"/>
<text x="509.1" y="253.6" text-anchor="middle" style="font-family:'Liberation Serif',serif;font-size:6.6px" fill="#3c3c3c">45.1</text>
<line x1="533.6" y1="243.6" x2="533.6" y2="246.8" stroke="#c8c8c8" stroke-width="0.8"/>
<line x1="533.6" y1="10.0" x2="533.6" y2="13.0" stroke="#c8c8c8" stroke-width="0.8"/>
<text x="533.6" y="253.6" text-anchor="middle" style="font-family:'Liberation Serif',serif;font-size:6.6px" fill="#3c3c3c">45.2</text>
<line x1="367.4" y1="19.8" x2="370.0" y2="19.8" stroke="#c8c8c8" stroke-width="0.8"/>
<line x1="537.3" y1="19.8" x2="539.9" y2="19.8" stroke="#c8c8c8" stroke-width="0.8"/>
<line x1="367.4" y1="44.4" x2="370.0" y2="44.4" stroke="#c8c8c8" stroke-width="0.8"/>
<line x1="537.3" y1="44.4" x2="539.9" y2="44.4" stroke="#c8c8c8" stroke-width="0.8"/>
<line x1="367.4" y1="69.0" x2="370.0" y2="69.0" stroke="#c8c8c8" stroke-width="0.8"/>
<line x1="537.3" y1="69.0" x2="539.9" y2="69.0" stroke="#c8c8c8" stroke-width="0.8"/>
<line x1="367.4" y1="93.5" x2="370.0" y2="93.5" stroke="#c8c8c8" stroke-width="0.8"/>
<line x1="537.3" y1="93.5" x2="539.9" y2="93.5" stroke="#c8c8c8" stroke-width="0.8"/>
<line x1="367.4" y1="118.1" x2="370.0" y2="118.1" stroke="#c8c8c8" stroke-width="0.8"/>
<line x1="537.3" y1="118.1" x2="539.9" y2="118.1" stroke="#c8c8c8" stroke-width="0.8"/>
<line x1="367.4" y1="142.7" x2="370.0" y2="142.7" stroke="#c8c8c8" stroke-width="0.8"/>
<line x1="537.3" y1="142.7" x2="539.9" y2="142.7" stroke="#c8c8c8" stroke-width="0.8"/>
<line x1="367.4" y1="167.3" x2="370.0" y2="167.3" stroke="#c8c8c8" stroke-width="0.8"/>
<line x1="537.3" y1="167.3" x2="539.9" y2="167.3" stroke="#c8c8c8" stroke-width="0.8"/>
<line x1="367.4" y1="191.9" x2="370.0" y2="191.9" stroke="#c8c8c8" stroke-width="0.8"/>
<line x1="537.3" y1="191.9" x2="539.9" y2="191.9" stroke="#c8c8c8" stroke-width="0.8"/>
<line x1="367.4" y1="216.4" x2="370.0" y2="216.4" stroke="#c8c8c8" stroke-width="0.8"/>
<line x1="537.3" y1="216.4" x2="539.9" y2="216.4" stroke="#c8c8c8" stroke-width="0.8"/>
<line x1="367.4" y1="241.0" x2="370.0" y2="241.0" stroke="#c8c8c8" stroke-width="0.8"/>
<line x1="537.3" y1="241.0" x2="539.9" y2="241.0" stroke="#c8c8c8" stroke-width="0.8"/>
<text x="20.3" y="22.1" text-anchor="end" style="font-family:'Liberation Serif',serif;font-size:6.6px" fill="#3c3c3c">20.7</text>
<text x="20.3" y="46.7" text-anchor="end" style="font-family:'Liberation Serif',serif;font-size:6.6px" fill="#3c3c3c">20.6</text>
<text x="20.3" y="71.3" text-anchor="end" style="font-family:'Liberation Serif',serif;font-size:6.6px" fill="#3c3c3c">20.5</text>
<text x="20.3" y="95.8" text-anchor="end" style="font-family:'Liberation Serif',serif;font-size:6.6px" fill="#3c3c3c">20.4</text>
<text x="20.3" y="120.4" text-anchor="end" style="font-family:'Liberation Serif',serif;font-size:6.6px" fill="#3c3c3c">20.3</text>
<text x="20.3" y="145.0" text-anchor="end" style="font-family:'Liberation Serif',serif;font-size:6.6px" fill="#3c3c3c">20.2</text>
<text x="20.3" y="169.6" text-anchor="end" style="font-family:'Liberation Serif',serif;font-size:6.6px" fill="#3c3c3c">20.1</text>
<text x="20.3" y="194.2" text-anchor="end" style="font-family:'Liberation Serif',serif;font-size:6.6px" fill="#3c3c3c">20</text>
<text x="20.3" y="218.7" text-anchor="end" style="font-family:'Liberation Serif',serif;font-size:6.6px" fill="#3c3c3c">19.9</text>
<text x="20.3" y="243.3" text-anchor="end" style="font-family:'Liberation Serif',serif;font-size:6.6px" fill="#3c3c3c">19.8</text>
<rect x="25.6" y="99.30" width="8.4" height="6.75" fill="#a00000"/>
<rect x="25.6" y="106.00" width="8.4" height="6.75" fill="#c82000"/>
<rect x="25.6" y="112.70" width="8.4" height="6.75" fill="#e04000"/>
<rect x="25.6" y="119.40" width="8.4" height="6.75" fill="#f05a00"/>
<rect x="25.6" y="126.10" width="8.4" height="6.75" fill="#ff7000"/>
<rect x="25.6" y="132.80" width="8.4" height="6.75" fill="#ff8c00"/>
<rect x="25.6" y="139.50" width="8.4" height="6.75" fill="#ffa800"/>
<rect x="25.6" y="146.20" width="8.4" height="6.75" fill="#ffc800"/>
<rect x="25.6" y="152.90" width="8.4" height="6.75" fill="#ffff00"/>
<rect x="25.6" y="159.60" width="8.4" height="6.75" fill="#e0ec10"/>
<rect x="25.6" y="166.30" width="8.4" height="6.75" fill="#c8e020"/>
<rect x="25.6" y="173.00" width="8.4" height="6.75" fill="#b0d430"/>
<rect x="25.6" y="179.70" width="8.4" height="6.75" fill="#90cc40"/>
<rect x="25.6" y="186.40" width="8.4" height="6.75" fill="#6cd864"/>
<rect x="25.6" y="193.10" width="8.4" height="6.75" fill="#40dca0"/>
<rect x="25.6" y="199.80" width="8.4" height="6.75" fill="#38e4c8"/>
<rect x="25.6" y="206.50" width="8.4" height="6.75" fill="#00ffff"/>
<rect x="25.6" y="213.20" width="8.4" height="6.75" fill="#10b0d8"/>
<rect x="25.6" y="219.90" width="8.4" height="6.75" fill="#0888c0"/>
<rect x="25.6" y="226.60" width="8.4" height="6.75" fill="#0848a0"/>
<rect x="25.6" y="233.30" width="8.4" height="6.75" fill="#000078"/>
<text x="36.0" y="107.90" style="font-family:'Liberation Serif',serif;font-size:5.6px;letter-spacing:0px" fill="#4a4010">725</text>
<text x="36.0" y="114.60" style="font-family:'Liberation Serif',serif;font-size:5.6px;letter-spacing:0px" fill="#4a4010">720</text>
<text x="36.0" y="121.30" style="font-family:'Liberation Serif',serif;font-size:5.6px;letter-spacing:0px" fill="#4a4010">715</text>
<text x="36.0" y="128.00" style="font-family:'Liberation Serif',serif;font-size:5.6px;letter-spacing:0px" fill="#4a4010">710</text>
<text x="36.0" y="134.70" style="font-family:'Liberation Serif',serif;font-size:5.6px;letter-spacing:0px" fill="#4a4010">705</text>
<text x="36.0" y="141.40" style="font-family:'Liberation Serif',serif;font-size:5.6px;letter-spacing:0px" fill="#4a4010">700</text>
<text x="36.0" y="148.10" style="font-family:'Liberation Serif',serif;font-size:5.6px;letter-spacing:0px" fill="#4a4010">695</text>
<text x="36.0" y="154.80" style="font-family:'Liberation Serif',serif;font-size:5.6px;letter-spacing:0px" fill="#4a4010">690</text>
<text x="36.0" y="161.50" style="font-family:'Liberation Serif',serif;font-size:5.6px;letter-spacing:0px" fill="#4a4010">685</text>
<text x="36.0" y="168.20" style="font-family:'Liberation Serif',serif;font-size:5.6px;letter-spacing:0px" fill="#4a4010">680</text>
<text x="36.0" y="174.90" style="font-family:'Liberation Serif',serif;font-size:5.6px;letter-spacing:0px" fill="#4a4010">675</text>
<text x="36.0" y="181.60" style="font-family:'Liberation Serif',serif;font-size:5.6px;letter-spacing:0px" fill="#4a4010">670</text>
<text x="36.0" y="188.30" style="font-family:'Liberation Serif',serif;font-size:5.6px;letter-spacing:0px" fill="#4a4010">665</text>
<text x="36.0" y="195.00" style="font-family:'Liberation Serif',serif;font-size:5.6px;letter-spacing:0px" fill="#4a4010">660</text>
<text x="36.0" y="201.70" style="font-family:'Liberation Serif',serif;font-size:5.6px;letter-spacing:0px" fill="#4a4010">655</text>
<text x="36.0" y="208.40" style="font-family:'Liberation Serif',serif;font-size:5.6px;letter-spacing:0px" fill="#4a4010">650</text>
<text x="36.0" y="215.10" style="font-family:'Liberation Serif',serif;font-size:5.6px;letter-spacing:0px" fill="#4a4010">645</text>
<text x="36.0" y="221.80" style="font-family:'Liberation Serif',serif;font-size:5.6px;letter-spacing:0px" fill="#4a4010">640</text>
<text x="36.0" y="228.50" style="font-family:'Liberation Serif',serif;font-size:5.6px;letter-spacing:0px" fill="#4a4010">635</text>
<text x="36.0" y="235.20" style="font-family:'Liberation Serif',serif;font-size:5.6px;letter-spacing:0px" fill="#4a4010">630</text>
<text x="36.0" y="241.90" style="font-family:'Liberation Serif',serif;font-size:5.6px;letter-spacing:0px" fill="#4a4010">625</text>
<text x="29.3" y="96.2" text-anchor="start" style="font-family:'Liberation Serif',serif;font-size:5.0px;font-weight:bold" fill="#1a1a1a">Water table 1909</text>
<rect x="199.4" y="99.30" width="8.4" height="7.02" fill="#a00000"/>
<rect x="199.4" y="106.27" width="8.4" height="7.02" fill="#c82000"/>
<rect x="199.4" y="113.24" width="8.4" height="7.02" fill="#e03c00"/>
<rect x="199.4" y="120.21" width="8.4" height="7.02" fill="#f05000"/>
<rect x="199.4" y="127.18" width="8.4" height="7.02" fill="#ff6c00"/>
<rect x="199.4" y="134.15" width="8.4" height="7.02" fill="#ff9800"/>
<rect x="199.4" y="141.12" width="8.4" height="7.02" fill="#ffcc00"/>
<rect x="199.4" y="148.09" width="8.4" height="7.02" fill="#ffff00"/>
<rect x="199.4" y="155.06" width="8.4" height="7.02" fill="#e0ec10"/>
<rect x="199.4" y="162.03" width="8.4" height="7.02" fill="#c8e020"/>
<rect x="199.4" y="169.00" width="8.4" height="7.02" fill="#b0d430"/>
<rect x="199.4" y="175.97" width="8.4" height="7.02" fill="#90cc40"/>
<rect x="199.4" y="182.94" width="8.4" height="7.02" fill="#6cd864"/>
<rect x="199.4" y="189.91" width="8.4" height="7.02" fill="#40dca0"/>
<rect x="199.4" y="196.88" width="8.4" height="7.02" fill="#38e4c8"/>
<rect x="199.4" y="203.85" width="8.4" height="7.02" fill="#00ffff"/>
<rect x="199.4" y="210.82" width="8.4" height="7.02" fill="#10b0d8"/>
<rect x="199.4" y="217.79" width="8.4" height="7.02" fill="#0888c0"/>
<rect x="199.4" y="224.76" width="8.4" height="7.02" fill="#0848a0"/>
<rect x="199.4" y="231.73" width="8.4" height="7.02" fill="#000078"/>
<text x="209.8" y="108.17" style="font-family:'Liberation Serif',serif;font-size:5.6px;letter-spacing:0px" fill="#4a4010">630</text>
<text x="209.8" y="115.14" style="font-family:'Liberation Serif',serif;font-size:5.6px;letter-spacing:0px" fill="#4a4010">625</text>
<text x="209.8" y="122.11" style="font-family:'Liberation Serif',serif;font-size:5.6px;letter-spacing:0px" fill="#4a4010">620</text>
<text x="209.8" y="129.08" style="font-family:'Liberation Serif',serif;font-size:5.6px;letter-spacing:0px" fill="#4a4010">615</text>
<text x="209.8" y="136.05" style="font-family:'Liberation Serif',serif;font-size:5.6px;letter-spacing:0px" fill="#4a4010">610</text>
<text x="209.8" y="143.02" style="font-family:'Liberation Serif',serif;font-size:5.6px;letter-spacing:0px" fill="#4a4010">605</text>
<text x="209.8" y="149.99" style="font-family:'Liberation Serif',serif;font-size:5.6px;letter-spacing:0px" fill="#4a4010">600</text>
<text x="209.8" y="156.96" style="font-family:'Liberation Serif',serif;font-size:5.6px;letter-spacing:0px" fill="#4a4010">595</text>
<text x="209.8" y="163.93" style="font-family:'Liberation Serif',serif;font-size:5.6px;letter-spacing:0px" fill="#4a4010">590</text>
<text x="209.8" y="170.90" style="font-family:'Liberation Serif',serif;font-size:5.6px;letter-spacing:0px" fill="#4a4010">585</text>
<text x="209.8" y="177.87" style="font-family:'Liberation Serif',serif;font-size:5.6px;letter-spacing:0px" fill="#4a4010">580</text>
<text x="209.8" y="184.84" style="font-family:'Liberation Serif',serif;font-size:5.6px;letter-spacing:0px" fill="#4a4010">575</text>
<text x="209.8" y="191.81" style="font-family:'Liberation Serif',serif;font-size:5.6px;letter-spacing:0px" fill="#4a4010">570</text>
<text x="209.8" y="198.78" style="font-family:'Liberation Serif',serif;font-size:5.6px;letter-spacing:0px" fill="#4a4010">565</text>
<text x="209.8" y="205.75" style="font-family:'Liberation Serif',serif;font-size:5.6px;letter-spacing:0px" fill="#4a4010">560</text>
<text x="209.8" y="212.72" style="font-family:'Liberation Serif',serif;font-size:5.6px;letter-spacing:0px" fill="#4a4010">555</text>
<text x="209.8" y="219.69" style="font-family:'Liberation Serif',serif;font-size:5.6px;letter-spacing:0px" fill="#4a4010">550</text>
<text x="209.8" y="226.66" style="font-family:'Liberation Serif',serif;font-size:5.6px;letter-spacing:0px" fill="#4a4010">545</text>
<text x="209.8" y="233.63" style="font-family:'Liberation Serif',serif;font-size:5.6px;letter-spacing:0px" fill="#4a4010">540</text>
<text x="209.8" y="240.60" style="font-family:'Liberation Serif',serif;font-size:5.6px;letter-spacing:0px" fill="#4a4010">535</text>
<text x="198.3" y="97.4" text-anchor="start" style="font-family:'Liberation Serif',serif;font-size:5.0px;font-weight:bold" fill="#1a1a1a">Water table 2002</text>
<rect x="371.8" y="98.10" width="10.2" height="6.29" fill="#ffffff"/>
<rect x="371.8" y="104.34" width="10.2" height="6.29" fill="#fff0f0"/>
<rect x="371.8" y="110.58" width="10.2" height="6.29" fill="#ffb0b0"/>
<rect x="371.8" y="116.82" width="10.2" height="6.29" fill="#ff6060"/>
<rect x="371.8" y="123.06" width="10.2" height="6.29" fill="#ff2020"/>
<rect x="371.8" y="129.30" width="10.2" height="6.29" fill="#f01000"/>
<rect x="371.8" y="135.54" width="10.2" height="6.29" fill="#f85000"/>
<rect x="371.8" y="141.78" width="10.2" height="6.29" fill="#ff9000"/>
<rect x="371.8" y="148.02" width="10.2" height="6.29" fill="#ffc000"/>
<rect x="371.8" y="154.26" width="10.2" height="6.29" fill="#ffff00"/>
<rect x="371.8" y="160.50" width="10.2" height="6.29" fill="#90d020"/>
<rect x="371.8" y="166.74" width="10.2" height="6.29" fill="#20a020"/>
<rect x="371.8" y="172.98" width="10.2" height="6.29" fill="#10a020"/>
<rect x="371.8" y="179.22" width="10.2" height="6.29" fill="#10b040"/>
<rect x="371.8" y="185.46" width="10.2" height="6.29" fill="#10c878"/>
<rect x="371.8" y="191.70" width="10.2" height="6.29" fill="#10e0b8"/>
<rect x="371.8" y="197.94" width="10.2" height="6.29" fill="#00f0f0"/>
<rect x="371.8" y="204.18" width="10.2" height="6.29" fill="#10c8f8"/>
<rect x="371.8" y="210.42" width="10.2" height="6.29" fill="#2080f0"/>
<rect x="371.8" y="216.66" width="10.2" height="6.29" fill="#1030f0"/>
<rect x="371.8" y="222.90" width="10.2" height="6.29" fill="#0000d8"/>
<rect x="371.8" y="229.14" width="10.2" height="6.29" fill="#000080"/>
<rect x="371.8" y="235.38" width="10.2" height="6.29" fill="#100010"/>
<text x="384.6" y="106.24" style="font-family:'Liberation Serif',serif;font-size:6.0px;letter-spacing:0.35px" fill="#1a2a1a">118</text>
<text x="384.6" y="112.48" style="font-family:'Liberation Serif',serif;font-size:6.0px;letter-spacing:0.35px" fill="#1a2a1a">116</text>
<text x="384.6" y="118.72" style="font-family:'Liberation Serif',serif;font-size:6.0px;letter-spacing:0.35px" fill="#1a2a1a">114</text>
<text x="384.6" y="124.96" style="font-family:'Liberation Serif',serif;font-size:6.0px;letter-spacing:0.35px" fill="#1a2a1a">112</text>
<text x="384.6" y="131.20" style="font-family:'Liberation Serif',serif;font-size:6.0px;letter-spacing:0.35px" fill="#1a2a1a">110</text>
<text x="384.6" y="137.44" style="font-family:'Liberation Serif',serif;font-size:6.0px;letter-spacing:0.35px" fill="#1a2a1a">108</text>
<text x="384.6" y="143.68" style="font-family:'Liberation Serif',serif;font-size:6.0px;letter-spacing:0.35px" fill="#1a2a1a">106</text>
<text x="384.6" y="149.92" style="font-family:'Liberation Serif',serif;font-size:6.0px;letter-spacing:0.35px" fill="#1a2a1a">104</text>
<text x="384.6" y="156.16" style="font-family:'Liberation Serif',serif;font-size:6.0px;letter-spacing:0.35px" fill="#1a2a1a">102</text>
<text x="384.6" y="162.40" style="font-family:'Liberation Serif',serif;font-size:6.0px;letter-spacing:0.35px" fill="#1a2a1a">100</text>
<text x="384.6" y="168.64" style="font-family:'Liberation Serif',serif;font-size:6.0px;letter-spacing:0.35px" fill="#1a2a1a">98</text>
<text x="384.6" y="174.88" style="font-family:'Liberation Serif',serif;font-size:6.0px;letter-spacing:0.35px" fill="#1a2a1a">96</text>
<text x="384.6" y="181.12" style="font-family:'Liberation Serif',serif;font-size:6.0px;letter-spacing:0.35px" fill="#1a2a1a">94</text>
<text x="384.6" y="187.36" style="font-family:'Liberation Serif',serif;font-size:6.0px;letter-spacing:0.35px" fill="#1a2a1a">92</text>
<text x="384.6" y="193.60" style="font-family:'Liberation Serif',serif;font-size:6.0px;letter-spacing:0.35px" fill="#1a2a1a">90</text>
<text x="384.6" y="199.84" style="font-family:'Liberation Serif',serif;font-size:6.0px;letter-spacing:0.35px" fill="#1a2a1a">88</text>
<text x="384.6" y="206.08" style="font-family:'Liberation Serif',serif;font-size:6.0px;letter-spacing:0.35px" fill="#1a2a1a">86</text>
<text x="384.6" y="212.32" style="font-family:'Liberation Serif',serif;font-size:6.0px;letter-spacing:0.35px" fill="#1a2a1a">84</text>
<text x="384.6" y="218.56" style="font-family:'Liberation Serif',serif;font-size:6.0px;letter-spacing:0.35px" fill="#1a2a1a">82</text>
<text x="384.6" y="224.80" style="font-family:'Liberation Serif',serif;font-size:6.0px;letter-spacing:0.35px" fill="#1a2a1a">80</text>
<text x="384.6" y="231.04" style="font-family:'Liberation Serif',serif;font-size:6.0px;letter-spacing:0.35px" fill="#1a2a1a">78</text>
<text x="384.6" y="237.28" style="font-family:'Liberation Serif',serif;font-size:6.0px;letter-spacing:0.35px" fill="#1a2a1a">76</text>
<text x="384.6" y="243.52" style="font-family:'Liberation Serif',serif;font-size:6.0px;letter-spacing:0.35px" fill="#1a2a1a">74</text>
<text x="371.6" y="93.6" text-anchor="start" style="font-family:'Liberation Serif',serif;font-size:5.0px;font-weight:bold" fill="#1a1a1a">Water table difference (m)</text>
<text x="399.7" y="99.2" text-anchor="middle" style="font-family:'Liberation Serif',serif;font-size:5.0px;font-weight:bold" fill="#1a1a1a">(1909-2002)</text>
<circle cx="39.9" cy="28.5" r="8.4" fill="none" stroke="#1c281c" stroke-width="0.95"/>
<path d="M39.90 28.50L41.05 27.30L39.90 20.27Z" fill="#1c281c"/>
<path d="M39.90 28.50L38.75 27.30L39.90 20.27Z" fill="none" stroke="#1c281c" stroke-width="0.4"/>
<path d="M39.90 28.50L41.42 28.32L44.18 24.22Z" fill="#1c281c"/>
<path d="M39.90 28.50L40.08 26.98L44.18 24.22Z" fill="none" stroke="#1c281c" stroke-width="0.4"/>
<path d="M39.90 28.50L41.10 29.65L48.13 28.50Z" fill="#1c281c"/>
<path d="M39.90 28.50L41.10 27.35L48.13 28.50Z" fill="none" stroke="#1c281c" stroke-width="0.4"/>
<path d="M39.90 28.50L40.08 30.02L44.18 32.78Z" fill="#1c281c"/>
<path d="M39.90 28.50L41.42 28.68L44.18 32.78Z" fill="none" stroke="#1c281c" stroke-width="0.4"/>
<path d="M39.90 28.50L38.75 29.70L39.90 36.73Z" fill="#1c281c"/>
<path d="M39.90 28.50L41.05 29.70L39.90 36.73Z" fill="none" stroke="#1c281c" stroke-width="0.4"/>
<path d="M39.90 28.50L38.38 28.68L35.62 32.78Z" fill="#1c281c"/>
<path d="M39.90 28.50L39.72 30.02L35.62 32.78Z" fill="none" stroke="#1c281c" stroke-width="0.4"/>
<path d="M39.90 28.50L38.70 27.35L31.67 28.50Z" fill="#1c281c"/>
<path d="M39.90 28.50L38.70 29.65L31.67 28.50Z" fill="none" stroke="#1c281c" stroke-width="0.4"/>
<path d="M39.90 28.50L39.72 26.98L35.62 24.22Z" fill="#1c281c"/>
<path d="M39.90 28.50L38.38 28.32L35.62 24.22Z" fill="none" stroke="#1c281c" stroke-width="0.4"/>
<text x="39.9" y="17.1" text-anchor="middle" style="font-family:'Liberation Serif',serif;font-size:4.2px" fill="#1c281c">N</text>
<text x="39.9" y="42.5" text-anchor="middle" style="font-family:'Liberation Serif',serif;font-size:4.2px" fill="#1c281c">S</text>
<text x="27.1" y="30.0" text-anchor="middle" style="font-family:'Liberation Serif',serif;font-size:4.2px" fill="#1c281c">W</text>
<text x="50.7" y="30.0" text-anchor="middle" style="font-family:'Liberation Serif',serif;font-size:4.2px" fill="#1c281c">E</text>
<circle cx="213.8" cy="28.4" r="8.4" fill="none" stroke="#1c281c" stroke-width="0.95"/>
<path d="M213.80 28.40L214.95 27.20L213.80 20.17Z" fill="#1c281c"/>
<path d="M213.80 28.40L212.65 27.20L213.80 20.17Z" fill="none" stroke="#1c281c" stroke-width="0.4"/>
<path d="M213.80 28.40L215.32 28.22L218.08 24.12Z" fill="#1c281c"/>
<path d="M213.80 28.40L213.98 26.88L218.08 24.12Z" fill="none" stroke="#1c281c" stroke-width="0.4"/>
<path d="M213.80 28.40L215.00 29.55L222.03 28.40Z" fill="#1c281c"/>
<path d="M213.80 28.40L215.00 27.25L222.03 28.40Z" fill="none" stroke="#1c281c" stroke-width="0.4"/>
<path d="M213.80 28.40L213.98 29.92L218.08 32.68Z" fill="#1c281c"/>
<path d="M213.80 28.40L215.32 28.58L218.08 32.68Z" fill="none" stroke="#1c281c" stroke-width="0.4"/>
<path d="M213.80 28.40L212.65 29.60L213.80 36.63Z" fill="#1c281c"/>
<path d="M213.80 28.40L214.95 29.60L213.80 36.63Z" fill="none" stroke="#1c281c" stroke-width="0.4"/>
<path d="M213.80 28.40L212.28 28.58L209.52 32.68Z" fill="#1c281c"/>
<path d="M213.80 28.40L213.62 29.92L209.52 32.68Z" fill="none" stroke="#1c281c" stroke-width="0.4"/>
<path d="M213.80 28.40L212.60 27.25L205.57 28.40Z" fill="#1c281c"/>
<path d="M213.80 28.40L212.60 29.55L205.57 28.40Z" fill="none" stroke="#1c281c" stroke-width="0.4"/>
<path d="M213.80 28.40L213.62 26.88L209.52 24.12Z" fill="#1c281c"/>
<path d="M213.80 28.40L212.28 28.22L209.52 24.12Z" fill="none" stroke="#1c281c" stroke-width="0.4"/>
<text x="213.8" y="17.0" text-anchor="middle" style="font-family:'Liberation Serif',serif;font-size:4.2px" fill="#1c281c">N</text>
<text x="213.8" y="42.4" text-anchor="middle" style="font-family:'Liberation Serif',serif;font-size:4.2px" fill="#1c281c">S</text>
<text x="201.0" y="29.9" text-anchor="middle" style="font-family:'Liberation Serif',serif;font-size:4.2px" fill="#1c281c">W</text>
<text x="224.6" y="29.9" text-anchor="middle" style="font-family:'Liberation Serif',serif;font-size:4.2px" fill="#1c281c">E</text>
<circle cx="386.3" cy="28.6" r="8.4" fill="none" stroke="#1c281c" stroke-width="0.95"/>
<path d="M386.30 28.60L387.45 27.40L386.30 20.37Z" fill="#1c281c"/>
<path d="M386.30 28.60L385.15 27.40L386.30 20.37Z" fill="none" stroke="#1c281c" stroke-width="0.4"/>
<path d="M386.30 28.60L387.82 28.42L390.58 24.32Z" fill="#1c281c"/>
<path d="M386.30 28.60L386.48 27.08L390.58 24.32Z" fill="none" stroke="#1c281c" stroke-width="0.4"/>
<path d="M386.30 28.60L387.50 29.75L394.53 28.60Z" fill="#1c281c"/>
<path d="M386.30 28.60L387.50 27.45L394.53 28.60Z" fill="none" stroke="#1c281c" stroke-width="0.4"/>
<path d="M386.30 28.60L386.48 30.12L390.58 32.88Z" fill="#1c281c"/>
<path d="M386.30 28.60L387.82 28.78L390.58 32.88Z" fill="none" stroke="#1c281c" stroke-width="0.4"/>
<path d="M386.30 28.60L385.15 29.80L386.30 36.83Z" fill="#1c281c"/>
<path d="M386.30 28.60L387.45 29.80L386.30 36.83Z" fill="none" stroke="#1c281c" stroke-width="0.4"/>
<path d="M386.30 28.60L384.78 28.78L382.02 32.88Z" fill="#1c281c"/>
<path d="M386.30 28.60L386.12 30.12L382.02 32.88Z" fill="none" stroke="#1c281c" stroke-width="0.4"/>
<path d="M386.30 28.60L385.10 27.45L378.07 28.60Z" fill="#1c281c"/>
<path d="M386.30 28.60L385.10 29.75L378.07 28.60Z" fill="none" stroke="#1c281c" stroke-width="0.4"/>
<path d="M386.30 28.60L386.12 27.08L382.02 24.32Z" fill="#1c281c"/>
<path d="M386.30 28.60L384.78 28.42L382.02 24.32Z" fill="none" stroke="#1c281c" stroke-width="0.4"/>
<text x="386.3" y="17.2" text-anchor="middle" style="font-family:'Liberation Serif',serif;font-size:4.2px" fill="#1c281c">N</text>
<text x="386.3" y="42.6" text-anchor="middle" style="font-family:'Liberation Serif',serif;font-size:4.2px" fill="#1c281c">S</text>
<text x="373.5" y="30.1" text-anchor="middle" style="font-family:'Liberation Serif',serif;font-size:4.2px" fill="#1c281c">W</text>
<text x="397.1" y="30.1" text-anchor="middle" style="font-family:'Liberation Serif',serif;font-size:4.2px" fill="#1c281c">E</text>
<rect x="54.6" y="27.7" width="11.1" height="1.4" fill="#111"/>
<rect x="65.5" y="29.5" width="11.1" height="1.4" fill="#111"/>
<rect x="76.4" y="27.7" width="11.1" height="1.4" fill="#111"/>
<rect x="87.3" y="29.5" width="11.1" height="1.4" fill="#111"/>
<text x="54.6" y="25.8" text-anchor="middle" style="font-family:'Liberation Serif',serif;font-size:3.6px" fill="#222">5</text>
<text x="65.5" y="25.8" text-anchor="middle" style="font-family:'Liberation Serif',serif;font-size:3.6px" fill="#222">0</text>
<text x="76.4" y="25.8" text-anchor="middle" style="font-family:'Liberation Serif',serif;font-size:3.6px" fill="#222">5</text>
<text x="87.3" y="25.8" text-anchor="middle" style="font-family:'Liberation Serif',serif;font-size:3.6px" fill="#222">10</text>
<text x="98.2" y="25.8" text-anchor="middle" style="font-family:'Liberation Serif',serif;font-size:3.6px" fill="#222">20</text>
<text x="98.7" y="31.0" style="font-family:'Liberation Serif',serif;font-size:3.6px" fill="#222">Km</text>
<rect x="227.8" y="27.7" width="11.1" height="1.4" fill="#111"/>
<rect x="238.7" y="29.5" width="11.1" height="1.4" fill="#111"/>
<rect x="249.6" y="27.7" width="11.1" height="1.4" fill="#111"/>
<rect x="260.5" y="29.5" width="11.1" height="1.4" fill="#111"/>
<text x="227.8" y="25.8" text-anchor="middle" style="font-family:'Liberation Serif',serif;font-size:3.6px" fill="#222">5</text>
<text x="238.7" y="25.8" text-anchor="middle" style="font-family:'Liberation Serif',serif;font-size:3.6px" fill="#222">0</text>
<text x="249.6" y="25.8" text-anchor="middle" style="font-family:'Liberation Serif',serif;font-size:3.6px" fill="#222">5</text>
<text x="260.5" y="25.8" text-anchor="middle" style="font-family:'Liberation Serif',serif;font-size:3.6px" fill="#222">10</text>
<text x="271.4" y="25.8" text-anchor="middle" style="font-family:'Liberation Serif',serif;font-size:3.6px" fill="#222">15</text>
<text x="271.9" y="31.0" style="font-family:'Liberation Serif',serif;font-size:3.6px" fill="#222">Km</text>
<rect x="401.3" y="27.7" width="11.1" height="1.4" fill="#111"/>
<rect x="412.2" y="29.5" width="11.1" height="1.4" fill="#111"/>
<rect x="423.1" y="27.7" width="11.1" height="1.4" fill="#111"/>
<rect x="434.0" y="29.5" width="11.1" height="1.4" fill="#111"/>
<text x="401.3" y="25.8" text-anchor="middle" style="font-family:'Liberation Serif',serif;font-size:3.6px" fill="#222">5</text>
<text x="412.2" y="25.8" text-anchor="middle" style="font-family:'Liberation Serif',serif;font-size:3.6px" fill="#222">0</text>
<text x="423.1" y="25.8" text-anchor="middle" style="font-family:'Liberation Serif',serif;font-size:3.6px" fill="#222">5</text>
<text x="434.0" y="25.8" text-anchor="middle" style="font-family:'Liberation Serif',serif;font-size:3.6px" fill="#222">10</text>
<text x="444.9" y="25.8" text-anchor="middle" style="font-family:'Liberation Serif',serif;font-size:3.6px" fill="#222">15</text>
<text x="445.4" y="31.0" style="font-family:'Liberation Serif',serif;font-size:3.6px" fill="#222">Km</text></svg></body></html>
